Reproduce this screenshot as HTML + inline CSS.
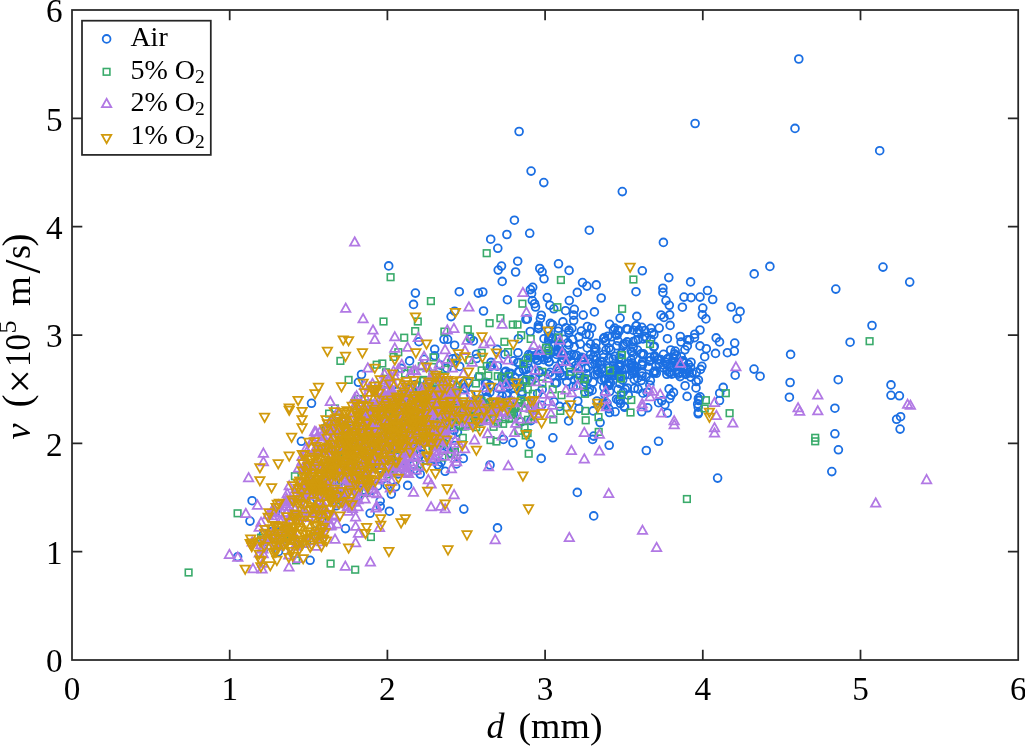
<!DOCTYPE html>
<html><head><meta charset="utf-8"><title>scatter</title>
<style>html,body{margin:0;padding:0;background:#fff}svg{display:block}text{font-family:"Liberation Serif",serif;fill:#000}</style></head><body>
<svg width="1025" height="746" viewBox="0 0 1025 746">
<rect width="1025" height="746" fill="#fff"/>
<defs>
<circle id="a" r="3.9" fill="none" stroke="#1b6fe3" stroke-width="1.8"/>
<rect id="g" x="-3.3" y="-3.3" width="6.6" height="6.6" fill="none" stroke="#3aab6b" stroke-width="1.6"/>
<path id="p" d="M0 -4.2 L4.7 4.2 L-4.7 4.2 Z" fill="none" stroke="#b178e4" stroke-width="1.75"/>
<path id="y" d="M0 4.2 L4.7 -4.2 L-4.7 -4.2 Z" fill="none" stroke="#d19a0c" stroke-width="1.75"/>
</defs>
<g>
<use href="#a" x="519.1" y="131.5"/><use href="#a" x="531.1" y="171.1"/><use href="#a" x="543.8" y="182.6"/><use href="#a" x="622.3" y="191.6"/><use href="#a" x="695.1" y="123.5"/><use href="#a" x="798.8" y="59"/><use href="#a" x="795" y="128.4"/><use href="#a" x="879.7" y="150.7"/><use href="#a" x="769.9" y="266.4"/><use href="#a" x="754.2" y="273.9"/><use href="#a" x="883" y="267.1"/><use href="#a" x="909.7" y="282.1"/><use href="#a" x="835.8" y="289.1"/><use href="#a" x="872" y="325.5"/><use href="#a" x="850.1" y="342.2"/><use href="#a" x="790.6" y="354.4"/><use href="#a" x="790.1" y="382.5"/><use href="#a" x="838.2" y="379.7"/><use href="#a" x="891" y="384.9"/><use href="#a" x="707.5" y="290.5"/><use href="#a" x="712.7" y="299.5"/><use href="#a" x="700" y="297.1"/><use href="#a" x="702.8" y="308.1"/><use href="#a" x="731.2" y="307"/><use href="#a" x="740.1" y="311.4"/><use href="#a" x="737.1" y="318.7"/><use href="#a" x="702.3" y="314.7"/><use href="#a" x="705.9" y="318.9"/><use href="#a" x="700" y="330"/><use href="#a" x="716.2" y="337.9"/><use href="#a" x="719.5" y="341.9"/><use href="#a" x="734.7" y="343.1"/><use href="#a" x="706.3" y="348.7"/><use href="#a" x="700" y="345.9"/><use href="#a" x="715.5" y="353.4"/><use href="#a" x="727.4" y="352.7"/><use href="#a" x="734.3" y="351.1"/><use href="#a" x="704.7" y="356.7"/><use href="#a" x="701.9" y="366.3"/><use href="#a" x="700.5" y="369.4"/><use href="#a" x="735.2" y="375.2"/><use href="#a" x="754" y="369.1"/><use href="#a" x="760.1" y="376.2"/><use href="#a" x="723.2" y="387.4"/><use href="#a" x="719.7" y="393.2"/><use href="#a" x="719.5" y="400.5"/><use href="#a" x="789.4" y="397.2"/><use href="#a" x="834.9" y="408.2"/><use href="#a" x="834.9" y="433.8"/><use href="#a" x="838.4" y="449.8"/><use href="#a" x="831.8" y="471.6"/><use href="#a" x="717.6" y="478.1"/><use href="#a" x="891" y="395.3"/><use href="#a" x="899.4" y="395.8"/><use href="#a" x="900.6" y="416.7"/><use href="#a" x="896.6" y="419.3"/><use href="#a" x="900.1" y="429.1"/><use href="#a" x="552.9" y="437.8"/><use href="#a" x="592.6" y="439.4"/><use href="#a" x="593.7" y="436.1"/><use href="#a" x="609.2" y="445.3"/><use href="#a" x="658.5" y="441.3"/><use href="#a" x="646.3" y="450.5"/><use href="#a" x="530.4" y="444.1"/><use href="#a" x="513" y="442.7"/><use href="#a" x="503.4" y="439.4"/><use href="#a" x="541.2" y="458.4"/><use href="#a" x="463.3" y="458.4"/><use href="#a" x="490" y="465"/><use href="#a" x="577.3" y="492.4"/><use href="#a" x="593.7" y="515.9"/><use href="#a" x="463.8" y="509.1"/><use href="#a" x="497.5" y="527.9"/><use href="#a" x="311.5" y="403.3"/><use href="#a" x="301.4" y="441.3"/><use href="#a" x="252.1" y="500.7"/><use href="#a" x="250" y="521.1"/><use href="#a" x="380.2" y="501.1"/><use href="#a" x="380.2" y="506.3"/><use href="#a" x="389.4" y="511.2"/><use href="#a" x="370.1" y="513.3"/><use href="#a" x="345.5" y="528.6"/><use href="#a" x="391.3" y="494.1"/><use href="#a" x="407.7" y="485.4"/><use href="#a" x="377.7" y="485.9"/><use href="#a" x="403" y="467.1"/><use href="#a" x="417.1" y="470.6"/><use href="#a" x="310.1" y="560.3"/><use href="#a" x="388.7" y="265.9"/><use href="#a" x="415.4" y="293.1"/><use href="#a" x="413.5" y="304.4"/><use href="#a" x="459.3" y="291.7"/><use href="#a" x="451.1" y="316.6"/><use href="#a" x="454.6" y="311.2"/><use href="#a" x="418.9" y="341.7"/><use href="#a" x="444" y="339.3"/><use href="#a" x="447.6" y="339.3"/><use href="#a" x="454.6" y="345.2"/><use href="#a" x="434.7" y="349.2"/><use href="#a" x="434.7" y="355.8"/><use href="#a" x="409.6" y="360.9"/><use href="#a" x="424.1" y="359.3"/><use href="#a" x="361.5" y="374.5"/><use href="#a" x="358.4" y="382.3"/><use href="#a" x="440.5" y="365.1"/><use href="#a" x="514.4" y="220.2"/><use href="#a" x="506.9" y="234.5"/><use href="#a" x="529.7" y="233.3"/><use href="#a" x="490.7" y="239.2"/><use href="#a" x="497.8" y="248.3"/><use href="#a" x="589.3" y="230.2"/><use href="#a" x="663.4" y="242.4"/><use href="#a" x="517.7" y="261.2"/><use href="#a" x="501.5" y="266.1"/><use href="#a" x="498.2" y="270.1"/><use href="#a" x="515.6" y="272"/><use href="#a" x="502.2" y="281.4"/><use href="#a" x="558.5" y="263.8"/><use href="#a" x="539.8" y="268.5"/><use href="#a" x="542.1" y="271.8"/><use href="#a" x="544" y="278.8"/><use href="#a" x="569.1" y="270.4"/><use href="#a" x="642.3" y="270.8"/><use href="#a" x="668.8" y="277.6"/><use href="#a" x="690.6" y="281.9"/><use href="#a" x="582.5" y="282.6"/><use href="#a" x="586.9" y="286.1"/><use href="#a" x="596.3" y="284.9"/><use href="#a" x="577.3" y="292.4"/><use href="#a" x="601.2" y="298"/><use href="#a" x="636" y="291.7"/><use href="#a" x="662.9" y="288.2"/><use href="#a" x="662.9" y="292.4"/><use href="#a" x="666" y="300.6"/><use href="#a" x="669.3" y="305.3"/><use href="#a" x="684" y="297.1"/><use href="#a" x="691.1" y="297.6"/><use href="#a" x="682.4" y="307.2"/><use href="#a" x="478.3" y="293.1"/><use href="#a" x="482.8" y="292"/><use href="#a" x="507.4" y="299.7"/><use href="#a" x="483.5" y="311"/><use href="#a" x="530.4" y="289.6"/><use href="#a" x="532.7" y="287.3"/><use href="#a" x="531.6" y="293.6"/><use href="#a" x="532.3" y="300.6"/><use href="#a" x="534.6" y="303.7"/><use href="#a" x="535.5" y="307"/><use href="#a" x="547.3" y="297.6"/><use href="#a" x="569.3" y="300.6"/><use href="#a" x="549.9" y="305.3"/><use href="#a" x="553.8" y="308.8"/><use href="#a" x="565.6" y="310.7"/><use href="#a" x="574.3" y="309.3"/><use href="#a" x="594.4" y="311.9"/><use href="#a" x="700.1" y="396.8"/><use href="#a" x="698.9" y="400.5"/><use href="#a" x="698.2" y="407.1"/><use href="#a" x="698.2" y="413.8"/><use href="#a" x="696" y="387.9"/><use href="#a" x="600.1" y="422.6"/><use href="#a" x="609.5" y="412.5"/><use href="#a" x="608.7" y="408.6"/><use href="#a" x="616.5" y="399.2"/><use href="#a" x="647.7" y="407.8"/><use href="#a" x="664.9" y="404.7"/><use href="#a" x="661.8" y="400.8"/><use href="#a" x="671.1" y="395.3"/><use href="#a" x="698.4" y="398.4"/><use href="#a" x="697.7" y="403.9"/><use href="#a" x="698.4" y="412.5"/><use href="#a" x="593.1" y="410.9"/><use href="#a" x="579" y="408.6"/><use href="#a" x="599.6" y="372.8"/><use href="#a" x="600.3" y="361.3"/><use href="#a" x="582.7" y="361.7"/><use href="#a" x="633.8" y="373.5"/><use href="#a" x="631.9" y="370.9"/><use href="#a" x="615.9" y="369.1"/><use href="#a" x="564.3" y="375.6"/><use href="#a" x="618.7" y="373.7"/><use href="#a" x="563.7" y="339.3"/><use href="#a" x="583.8" y="358.2"/><use href="#a" x="613.6" y="365.8"/><use href="#a" x="619" y="357.8"/><use href="#a" x="613.7" y="371.9"/><use href="#a" x="589.5" y="389"/><use href="#a" x="619.9" y="383.5"/><use href="#a" x="590.5" y="354.8"/><use href="#a" x="597.4" y="364"/><use href="#a" x="621.8" y="370.3"/><use href="#a" x="594.8" y="352"/><use href="#a" x="593" y="382.3"/><use href="#a" x="585.8" y="368.3"/><use href="#a" x="616.7" y="345.8"/><use href="#a" x="607.2" y="384.3"/><use href="#a" x="555.6" y="358.7"/><use href="#a" x="603.3" y="354.5"/><use href="#a" x="618.4" y="365.8"/><use href="#a" x="569.4" y="375.5"/><use href="#a" x="622.7" y="380.1"/><use href="#a" x="642" y="373.1"/><use href="#a" x="609" y="348.1"/><use href="#a" x="621.4" y="358.3"/><use href="#a" x="594.7" y="347.7"/><use href="#a" x="581.8" y="357.2"/><use href="#a" x="638.2" y="339.5"/><use href="#a" x="569.6" y="367.3"/><use href="#a" x="642.1" y="376.1"/><use href="#a" x="558.5" y="328.3"/><use href="#a" x="614.9" y="356.2"/><use href="#a" x="578" y="378"/><use href="#a" x="633.5" y="369.7"/><use href="#a" x="612.1" y="372.4"/><use href="#a" x="645.9" y="376.9"/><use href="#a" x="619" y="374.4"/><use href="#a" x="566.8" y="381.7"/><use href="#a" x="629.9" y="374.7"/><use href="#a" x="556.7" y="354.4"/><use href="#a" x="627.1" y="341.9"/><use href="#a" x="601.4" y="379.9"/><use href="#a" x="573.2" y="386.6"/><use href="#a" x="619.8" y="364.7"/><use href="#a" x="614.1" y="375.5"/><use href="#a" x="609" y="382.1"/><use href="#a" x="589.5" y="359.3"/><use href="#a" x="632" y="367.8"/><use href="#a" x="584" y="378"/><use href="#a" x="642.6" y="361.9"/><use href="#a" x="571.5" y="362.2"/><use href="#a" x="602.3" y="361.6"/><use href="#a" x="641.1" y="353.7"/><use href="#a" x="637.5" y="350.1"/><use href="#a" x="586.3" y="373.7"/><use href="#a" x="634.2" y="379.5"/><use href="#a" x="614.6" y="368.5"/><use href="#a" x="609.8" y="374.2"/><use href="#a" x="601.6" y="369.6"/><use href="#a" x="620.3" y="366.8"/><use href="#a" x="625.1" y="375"/><use href="#a" x="656.3" y="373.3"/><use href="#a" x="595.3" y="360.2"/><use href="#a" x="605.7" y="378.8"/><use href="#a" x="597.6" y="370.9"/><use href="#a" x="651.9" y="332.8"/><use href="#a" x="577.9" y="367.8"/><use href="#a" x="616" y="369.9"/><use href="#a" x="595.2" y="374.5"/><use href="#a" x="613.1" y="359.1"/><use href="#a" x="666.8" y="374.3"/><use href="#a" x="592.1" y="363.8"/><use href="#a" x="600.4" y="364.8"/><use href="#a" x="537.8" y="355.4"/><use href="#a" x="631.2" y="351.1"/><use href="#a" x="604.3" y="379.2"/><use href="#a" x="627.4" y="388"/><use href="#a" x="563.5" y="358.7"/><use href="#a" x="597.5" y="374.2"/><use href="#a" x="633.3" y="330.2"/><use href="#a" x="633.2" y="347.4"/><use href="#a" x="623.1" y="346.2"/><use href="#a" x="610.4" y="382.9"/><use href="#a" x="602.3" y="368.5"/><use href="#a" x="625.9" y="369.1"/><use href="#a" x="603.8" y="387.2"/><use href="#a" x="632.2" y="363.4"/><use href="#a" x="674.6" y="353.9"/><use href="#a" x="628.9" y="363.6"/><use href="#a" x="609.3" y="376"/><use href="#a" x="611.6" y="375.2"/><use href="#a" x="567.8" y="342.8"/><use href="#a" x="621.4" y="353.4"/><use href="#a" x="580.3" y="344.1"/><use href="#a" x="637.7" y="378.2"/><use href="#a" x="642.8" y="355"/><use href="#a" x="606" y="350.1"/><use href="#a" x="625.2" y="389.2"/><use href="#a" x="583.7" y="386.5"/><use href="#a" x="630.7" y="364.9"/><use href="#a" x="556.7" y="382.8"/><use href="#a" x="603.6" y="357.5"/><use href="#a" x="616" y="372.3"/><use href="#a" x="643.5" y="353.9"/><use href="#a" x="634.4" y="388.3"/><use href="#a" x="642.3" y="365.5"/><use href="#a" x="587.4" y="379.1"/><use href="#a" x="608.9" y="367.9"/><use href="#a" x="641.6" y="364.3"/><use href="#a" x="649.1" y="361.1"/><use href="#a" x="654.9" y="371"/><use href="#a" x="683.1" y="361.4"/><use href="#a" x="678.9" y="372.6"/><use href="#a" x="680" y="376.6"/><use href="#a" x="678.2" y="374.2"/><use href="#a" x="698.4" y="380"/><use href="#a" x="670.3" y="372.5"/><use href="#a" x="654.6" y="355.9"/><use href="#a" x="653.5" y="372.9"/><use href="#a" x="663" y="364.9"/><use href="#a" x="676.5" y="365.6"/><use href="#a" x="671.3" y="367.4"/><use href="#a" x="685.9" y="374.4"/><use href="#a" x="676.4" y="355.8"/><use href="#a" x="671.8" y="374.1"/><use href="#a" x="657.6" y="359.9"/><use href="#a" x="692.1" y="373.1"/><use href="#a" x="679.1" y="372.4"/><use href="#a" x="681.2" y="356.7"/><use href="#a" x="658.7" y="359.7"/><use href="#a" x="691" y="362.2"/><use href="#a" x="667.3" y="359.1"/><use href="#a" x="659.1" y="363.8"/><use href="#a" x="663.7" y="368"/><use href="#a" x="648.3" y="366.7"/><use href="#a" x="670.7" y="350"/><use href="#a" x="688.4" y="364.4"/><use href="#a" x="650" y="357.3"/><use href="#a" x="682.8" y="362.6"/><use href="#a" x="689.1" y="372.6"/><use href="#a" x="687.7" y="369.1"/><use href="#a" x="696.3" y="372.3"/><use href="#a" x="684.9" y="349.8"/><use href="#a" x="690.7" y="377.1"/><use href="#a" x="675.1" y="362"/><use href="#a" x="685.1" y="385.7"/><use href="#a" x="666.9" y="370.7"/><use href="#a" x="686.3" y="373.6"/><use href="#a" x="667.2" y="364.6"/><use href="#a" x="682.8" y="372.8"/><use href="#a" x="678.6" y="364.4"/><use href="#a" x="665.8" y="362.3"/><use href="#a" x="690.6" y="367.5"/><use href="#a" x="667.9" y="358.6"/><use href="#a" x="687.3" y="345.9"/><use href="#a" x="687.1" y="370.3"/><use href="#a" x="678.1" y="370.1"/><use href="#a" x="653.7" y="372.7"/><use href="#a" x="683.2" y="360.7"/><use href="#a" x="696.2" y="381.5"/><use href="#a" x="660.8" y="359.6"/><use href="#a" x="682.8" y="367.7"/><use href="#a" x="673.8" y="357.9"/><use href="#a" x="663.5" y="354.3"/><use href="#a" x="689.5" y="339.9"/><use href="#a" x="694.5" y="337.7"/><use href="#a" x="581.4" y="331.1"/><use href="#a" x="527.3" y="319"/><use href="#a" x="615.5" y="334.3"/><use href="#a" x="587.4" y="326.5"/><use href="#a" x="637.3" y="332.5"/><use href="#a" x="644.8" y="330.5"/><use href="#a" x="604.4" y="337.5"/><use href="#a" x="620.1" y="318.1"/><use href="#a" x="591.7" y="328"/><use href="#a" x="613.4" y="329.9"/><use href="#a" x="618" y="330.1"/><use href="#a" x="635.7" y="340.6"/><use href="#a" x="636.3" y="325.7"/><use href="#a" x="636.8" y="316.4"/><use href="#a" x="538.4" y="328.7"/><use href="#a" x="578.9" y="336.9"/><use href="#a" x="574.3" y="346.9"/><use href="#a" x="585.9" y="334.3"/><use href="#a" x="638.9" y="330.1"/><use href="#a" x="680.3" y="336.5"/><use href="#a" x="617.1" y="335.2"/><use href="#a" x="687.5" y="339.7"/><use href="#a" x="661" y="315"/><use href="#a" x="611.8" y="336.8"/><use href="#a" x="605.5" y="340.8"/><use href="#a" x="643" y="338.9"/><use href="#a" x="609.1" y="358.6"/><use href="#a" x="670.1" y="325.4"/><use href="#a" x="621.8" y="359.1"/><use href="#a" x="603.6" y="338.5"/><use href="#a" x="659.2" y="328.1"/><use href="#a" x="569" y="330.3"/><use href="#a" x="633.1" y="341.6"/><use href="#a" x="650.9" y="328.3"/><use href="#a" x="653.9" y="334.5"/><use href="#a" x="626.7" y="328.7"/><use href="#a" x="607.8" y="336.2"/><use href="#a" x="573.7" y="320.5"/><use href="#a" x="589.3" y="334.8"/><use href="#a" x="641.8" y="327.3"/><use href="#a" x="694.8" y="334.2"/><use href="#a" x="663.9" y="317.4"/><use href="#a" x="650.8" y="339.2"/><use href="#a" x="538.3" y="327.4"/><use href="#a" x="541.3" y="315.2"/><use href="#a" x="619.3" y="331"/><use href="#a" x="644.6" y="336.4"/><use href="#a" x="681.1" y="342"/><use href="#a" x="562.9" y="321.9"/><use href="#a" x="573.5" y="315.1"/><use href="#a" x="614.6" y="328.1"/><use href="#a" x="566" y="327.7"/><use href="#a" x="609.6" y="324.3"/><use href="#a" x="549" y="338.3"/><use href="#a" x="561.2" y="362.8"/><use href="#a" x="548.6" y="340.2"/><use href="#a" x="534.3" y="355.8"/><use href="#a" x="525.9" y="359.4"/><use href="#a" x="552.4" y="324.7"/><use href="#a" x="546" y="348.1"/><use href="#a" x="557.4" y="368.5"/><use href="#a" x="549.4" y="336.3"/><use href="#a" x="547.7" y="353.6"/><use href="#a" x="561.8" y="361.5"/><use href="#a" x="538.4" y="325.2"/><use href="#a" x="544" y="338.7"/><use href="#a" x="532.2" y="352.4"/><use href="#a" x="542.1" y="357.3"/><use href="#a" x="558.4" y="345.9"/><use href="#a" x="587.2" y="347.9"/><use href="#a" x="567.6" y="357.7"/><use href="#a" x="538" y="360.4"/><use href="#a" x="559.6" y="406.4"/><use href="#a" x="555.2" y="383.2"/><use href="#a" x="562.3" y="375.8"/><use href="#a" x="558.2" y="351.6"/><use href="#a" x="558.1" y="331.3"/><use href="#a" x="568.9" y="332.6"/><use href="#a" x="554" y="401.7"/><use href="#a" x="546.4" y="355.4"/><use href="#a" x="568.6" y="355.6"/><use href="#a" x="537.1" y="360.7"/><use href="#a" x="559.3" y="370.6"/><use href="#a" x="537.6" y="393.6"/><use href="#a" x="576.7" y="355.4"/><use href="#a" x="554.3" y="345.6"/><use href="#a" x="572.6" y="339.5"/><use href="#a" x="560.8" y="344.4"/><use href="#a" x="538.9" y="370.8"/><use href="#a" x="571.3" y="354.8"/><use href="#a" x="539.2" y="372.9"/><use href="#a" x="549.2" y="361.8"/><use href="#a" x="574.4" y="379.9"/><use href="#a" x="541.7" y="405.2"/><use href="#a" x="550.1" y="372.3"/><use href="#a" x="539.6" y="354"/><use href="#a" x="522" y="394.3"/><use href="#a" x="571.9" y="328.3"/><use href="#a" x="525.9" y="319.3"/><use href="#a" x="568.8" y="344.9"/><use href="#a" x="549" y="348.1"/><use href="#a" x="548.1" y="331.1"/><use href="#a" x="550.4" y="323.4"/><use href="#a" x="548.9" y="361.8"/><use href="#a" x="557.5" y="349.9"/><use href="#a" x="535.5" y="358.5"/><use href="#a" x="542.2" y="389.4"/><use href="#a" x="562.3" y="352.5"/><use href="#a" x="491.8" y="365.3"/><use href="#a" x="478.8" y="376.7"/><use href="#a" x="513.3" y="387.7"/><use href="#a" x="520.9" y="422"/><use href="#a" x="485.3" y="383.4"/><use href="#a" x="583.2" y="315.1"/><use href="#a" x="490.4" y="385.6"/><use href="#a" x="509.3" y="386.2"/><use href="#a" x="498.3" y="388.1"/><use href="#a" x="506.5" y="395.3"/><use href="#a" x="504.9" y="354.4"/><use href="#a" x="475.7" y="399.9"/><use href="#a" x="486.8" y="397.2"/><use href="#a" x="525.9" y="379.6"/><use href="#a" x="519.2" y="371.9"/><use href="#a" x="465.5" y="387.5"/><use href="#a" x="517.7" y="362.6"/><use href="#a" x="502.2" y="395.9"/><use href="#a" x="480.4" y="399"/><use href="#a" x="557.2" y="351.9"/><use href="#a" x="509.1" y="373.5"/><use href="#a" x="548.1" y="374.2"/><use href="#a" x="530.1" y="355.7"/><use href="#a" x="504.5" y="377.9"/><use href="#a" x="530.2" y="331.5"/><use href="#a" x="525.8" y="369.6"/><use href="#a" x="517.6" y="383.2"/><use href="#a" x="463" y="383.9"/><use href="#a" x="546.8" y="354.1"/><use href="#a" x="476.4" y="354.2"/><use href="#a" x="470.8" y="394.5"/><use href="#a" x="552.4" y="375.6"/><use href="#a" x="490.5" y="366.3"/><use href="#a" x="519.8" y="386.8"/><use href="#a" x="476.6" y="358.5"/><use href="#a" x="513.1" y="381.6"/><use href="#a" x="468.4" y="382.8"/><use href="#a" x="489.8" y="392.4"/><use href="#a" x="501.7" y="376.9"/><use href="#a" x="495.1" y="404.7"/><use href="#a" x="543.9" y="359.6"/><use href="#a" x="528.7" y="354.6"/><use href="#a" x="507" y="394.7"/><use href="#a" x="547.4" y="358.3"/><use href="#a" x="502.9" y="383"/><use href="#a" x="463.1" y="389.2"/><use href="#a" x="486.1" y="391.4"/><use href="#a" x="473.4" y="340.9"/><use href="#a" x="506.1" y="383.7"/><use href="#a" x="489.6" y="402.3"/><use href="#a" x="497.4" y="366.1"/><use href="#a" x="518.4" y="338.7"/><use href="#a" x="486" y="382.4"/><use href="#a" x="528.8" y="368.2"/><use href="#a" x="513.6" y="360.8"/><use href="#a" x="513.4" y="413.9"/><use href="#a" x="487" y="383"/><use href="#a" x="509.9" y="400.2"/><use href="#a" x="470.4" y="338.8"/><use href="#a" x="522" y="391.8"/><use href="#a" x="510.7" y="382.3"/><use href="#a" x="531" y="379.8"/><use href="#a" x="551.6" y="337.7"/><use href="#a" x="527.7" y="363.6"/><use href="#a" x="530.9" y="420.7"/><use href="#a" x="504.8" y="372.2"/><use href="#a" x="491" y="362.4"/><use href="#a" x="487.3" y="397.2"/><use href="#a" x="506" y="379.3"/><use href="#a" x="500.1" y="400.2"/><use href="#a" x="518.8" y="371.2"/><use href="#a" x="523.6" y="369.7"/><use href="#a" x="472.7" y="419.6"/><use href="#a" x="518" y="352.7"/><use href="#a" x="535.2" y="378.1"/><use href="#a" x="514.3" y="396"/><use href="#a" x="510.5" y="373.2"/><use href="#a" x="461.7" y="411.4"/><use href="#a" x="505.8" y="371.2"/><use href="#a" x="514.8" y="377.3"/><use href="#a" x="647" y="392.3"/><use href="#a" x="618.5" y="374.6"/><use href="#a" x="603.1" y="402.8"/><use href="#a" x="673.5" y="392.4"/><use href="#a" x="615.1" y="411.8"/><use href="#a" x="607" y="403.3"/><use href="#a" x="687.1" y="396.4"/><use href="#a" x="669.1" y="388.9"/><use href="#a" x="628.3" y="395.2"/><use href="#a" x="624.6" y="407.3"/><use href="#a" x="597" y="401"/><use href="#a" x="577.8" y="401"/><use href="#a" x="642.9" y="393.2"/><use href="#a" x="641.2" y="380.5"/><use href="#a" x="650.4" y="380.6"/><use href="#a" x="592.1" y="390.4"/><use href="#a" x="604" y="404.6"/><use href="#a" x="623.3" y="392"/><use href="#a" x="641.7" y="411.8"/><use href="#a" x="620.2" y="399.7"/><use href="#a" x="669.6" y="398.7"/><use href="#a" x="568.6" y="420.9"/><use href="#a" x="618.4" y="400.2"/><use href="#a" x="658.6" y="402.7"/><use href="#a" x="609.1" y="385.5"/><use href="#a" x="624.1" y="406.3"/><use href="#a" x="576.4" y="385.7"/><use href="#a" x="619" y="376.6"/><use href="#a" x="609.6" y="391.6"/><use href="#a" x="638" y="389"/><use href="#a" x="584.7" y="392.1"/><use href="#a" x="618" y="389.4"/><use href="#a" x="620.5" y="403.5"/><use href="#a" x="667.4" y="413"/><use href="#a" x="588.7" y="391.8"/><use href="#a" x="485.9" y="397.8"/><use href="#a" x="573.8" y="355.3"/><use href="#a" x="636.1" y="326.1"/><use href="#a" x="633.2" y="355.4"/><use href="#a" x="518.7" y="362.4"/><use href="#a" x="669.7" y="314.9"/><use href="#a" x="650.4" y="360.6"/><use href="#a" x="633.7" y="365.7"/><use href="#a" x="675.2" y="351.1"/><use href="#a" x="653.7" y="347"/><use href="#a" x="646.4" y="338.1"/><use href="#a" x="604.6" y="394.1"/><use href="#a" x="632.3" y="352.5"/><use href="#a" x="552.8" y="338.6"/><use href="#a" x="619.7" y="376.7"/><use href="#a" x="631.3" y="367.5"/><use href="#a" x="607.9" y="385.7"/><use href="#a" x="590.5" y="343.9"/><use href="#a" x="654.4" y="357.4"/><use href="#a" x="596.1" y="343.3"/><use href="#a" x="597.2" y="369.7"/><use href="#a" x="627.7" y="329.4"/><use href="#a" x="631.3" y="359.9"/><use href="#a" x="560" y="373"/><use href="#a" x="596" y="348.6"/><use href="#a" x="649.8" y="385.1"/><use href="#a" x="575.6" y="365.6"/><use href="#a" x="566.2" y="406.9"/><use href="#a" x="585.3" y="382.3"/><use href="#a" x="577.6" y="373.8"/><use href="#a" x="588.3" y="367"/><use href="#a" x="605.4" y="341.3"/><use href="#a" x="527.8" y="374.8"/><use href="#a" x="523.9" y="381.3"/><use href="#a" x="581.1" y="359.2"/><use href="#a" x="673" y="358.6"/><use href="#a" x="540.4" y="318.7"/><use href="#a" x="669.1" y="372.3"/><use href="#a" x="569.2" y="374.9"/><use href="#a" x="634.8" y="370.2"/><use href="#a" x="497.1" y="349.4"/><use href="#a" x="655" y="372.1"/><use href="#a" x="618.5" y="366.8"/><use href="#a" x="593.5" y="356.8"/><use href="#a" x="654.3" y="346.2"/><use href="#a" x="667.4" y="338.7"/><use href="#a" x="623.3" y="344.4"/><use href="#a" x="617.9" y="340.8"/><use href="#a" x="530.1" y="380"/><use href="#a" x="625.2" y="343.7"/><use href="#a" x="620" y="377.8"/><use href="#a" x="561.1" y="353.6"/><use href="#a" x="637" y="367.6"/><use href="#a" x="672.1" y="363.2"/><use href="#a" x="610.7" y="349.9"/><use href="#a" x="438" y="436.6"/><use href="#a" x="336.9" y="491.3"/><use href="#a" x="418.2" y="418.6"/><use href="#a" x="340.4" y="495.7"/><use href="#a" x="395.6" y="486.8"/><use href="#a" x="414.2" y="401.8"/><use href="#a" x="427.9" y="402"/><use href="#a" x="325.8" y="475"/><use href="#a" x="372.4" y="461.9"/><use href="#a" x="333.6" y="480.9"/><use href="#a" x="456.5" y="463.9"/><use href="#a" x="451.2" y="416.6"/><use href="#a" x="388.7" y="458.7"/><use href="#a" x="452.6" y="358.7"/><use href="#a" x="263.4" y="534.4"/><use href="#a" x="382.1" y="415.1"/><use href="#a" x="421.5" y="422.8"/><use href="#a" x="310.4" y="502.9"/><use href="#a" x="436.4" y="446"/><use href="#a" x="433.8" y="441.9"/><use href="#a" x="414.9" y="393.4"/><use href="#a" x="427.8" y="381.8"/><use href="#a" x="405.3" y="453.9"/><use href="#a" x="432.5" y="389.7"/><use href="#a" x="270.5" y="531.9"/><use href="#a" x="398.8" y="398.3"/><use href="#a" x="439.1" y="418"/><use href="#a" x="362.9" y="445.6"/><use href="#a" x="439.2" y="428.8"/><use href="#a" x="441.1" y="415.1"/><use href="#a" x="315.2" y="531"/><use href="#a" x="436" y="406.9"/><use href="#a" x="343.9" y="499.2"/><use href="#a" x="350.9" y="490.6"/><use href="#a" x="388.9" y="433.2"/><use href="#a" x="398.5" y="439.7"/><use href="#a" x="433.9" y="414.9"/><use href="#a" x="389.1" y="434.9"/><use href="#a" x="387.2" y="485.2"/><use href="#a" x="457.4" y="432.2"/><use href="#a" x="389.5" y="423.6"/><use href="#a" x="459.7" y="366.4"/><use href="#a" x="384.8" y="425.4"/><use href="#a" x="423.3" y="443.3"/><use href="#a" x="452.5" y="434.7"/><use href="#a" x="433" y="458.9"/><use href="#a" x="396.1" y="422.2"/><use href="#a" x="454.7" y="392"/><use href="#a" x="413.2" y="428.7"/><use href="#a" x="451.6" y="399.1"/><use href="#a" x="441" y="462.2"/><use href="#a" x="343.2" y="486.8"/><use href="#a" x="407.5" y="472.4"/><use href="#a" x="389.1" y="460.9"/><use href="#a" x="377.3" y="447.7"/><use href="#a" x="369.6" y="414.5"/><use href="#a" x="326.1" y="427.3"/><use href="#a" x="336.9" y="463.9"/><use href="#a" x="424" y="389.4"/><use href="#a" x="401.7" y="451.7"/><use href="#a" x="415.2" y="384.6"/><use href="#a" x="397.6" y="455.2"/><use href="#a" x="327.6" y="445.7"/><use href="#a" x="429.7" y="431"/><use href="#a" x="367.2" y="486.7"/><use href="#a" x="372.6" y="461.8"/><use href="#a" x="439.1" y="466.4"/><use href="#a" x="436.7" y="396.6"/><use href="#a" x="405.5" y="442.1"/><use href="#a" x="440.4" y="437.7"/><use href="#a" x="417.4" y="442.6"/><use href="#a" x="296.7" y="514.9"/><use href="#a" x="439.7" y="439.4"/><use href="#a" x="446.9" y="368.3"/><use href="#a" x="398.1" y="473.9"/><use href="#a" x="275.8" y="512.3"/><use href="#a" x="404.2" y="413.4"/><use href="#a" x="388.1" y="418.9"/><use href="#a" x="412.2" y="434.4"/><use href="#a" x="437.6" y="411.6"/><use href="#a" x="441.8" y="411"/><use href="#a" x="446.9" y="446.9"/><use href="#a" x="440.8" y="414"/><use href="#a" x="402" y="410.8"/><use href="#a" x="410.3" y="416.8"/><use href="#a" x="436.3" y="410"/><use href="#a" x="427" y="417.3"/><use href="#a" x="450.9" y="452.9"/><use href="#a" x="333.4" y="467.6"/><use href="#a" x="406.5" y="411.7"/><use href="#a" x="424.2" y="404.4"/><use href="#a" x="454.7" y="445.5"/><use href="#a" x="423.3" y="432.3"/><use href="#a" x="403.6" y="406.2"/><use href="#a" x="438.9" y="421.2"/><use href="#a" x="378.9" y="422.4"/><use href="#a" x="337.1" y="464.9"/><use href="#a" x="444" y="397.9"/><use href="#a" x="394.3" y="426.1"/><use href="#a" x="350.9" y="475.5"/><use href="#a" x="425.5" y="392.7"/><use href="#a" x="360.2" y="466.1"/><use href="#a" x="409.8" y="389.6"/><use href="#a" x="357.3" y="450"/><use href="#a" x="389" y="440.7"/><use href="#a" x="459.3" y="387"/><use href="#a" x="329.5" y="479.7"/><use href="#a" x="442" y="440.2"/><use href="#a" x="425.6" y="460"/><use href="#a" x="397.2" y="391.4"/><use href="#a" x="456" y="358.1"/><use href="#a" x="363.5" y="490"/><use href="#a" x="375.5" y="430.7"/><use href="#a" x="368.3" y="456.1"/><use href="#a" x="426.9" y="398.3"/><use href="#a" x="280.8" y="531.3"/><use href="#a" x="420.9" y="453.9"/><use href="#a" x="420.2" y="474.1"/><use href="#a" x="336.3" y="505.8"/><use href="#a" x="322.9" y="511.6"/><use href="#a" x="401.4" y="368.4"/><use href="#a" x="365.7" y="452.8"/><use href="#a" x="372" y="490.3"/><use href="#a" x="421.4" y="447.6"/><use href="#a" x="293.9" y="515.8"/><use href="#a" x="334.3" y="469.3"/><use href="#a" x="420.2" y="408.6"/><use href="#a" x="237.6" y="556.8"/><use href="#a" x="365.1" y="425.4"/><use href="#a" x="385.5" y="441.8"/><use href="#a" x="454" y="430.4"/><use href="#a" x="416.9" y="455.6"/><use href="#a" x="407.4" y="457.6"/><use href="#a" x="357" y="489.2"/><use href="#a" x="406.5" y="396.3"/><use href="#a" x="432.4" y="430.1"/><use href="#a" x="344.8" y="462"/><use href="#a" x="306.5" y="543.2"/><use href="#a" x="373.1" y="456.2"/><use href="#a" x="414.1" y="464.5"/><use href="#a" x="458.7" y="407.4"/><use href="#a" x="278.5" y="551.7"/><use href="#a" x="418" y="424.1"/><use href="#a" x="363.9" y="473.8"/><use href="#a" x="392.8" y="440.5"/><use href="#a" x="407.2" y="444.5"/><use href="#a" x="379.5" y="468.3"/><use href="#a" x="445.1" y="471.3"/><use href="#a" x="359.8" y="447.4"/><use href="#a" x="436.6" y="409.6"/><use href="#a" x="400.3" y="421.6"/><use href="#a" x="402.8" y="461"/><use href="#a" x="432.5" y="443.3"/><use href="#a" x="430.3" y="432.4"/><use href="#a" x="434.4" y="386.6"/><use href="#a" x="357.6" y="496.3"/><use href="#a" x="382.7" y="418.5"/><use href="#a" x="437.8" y="464.7"/><use href="#a" x="432.2" y="431.8"/><use href="#a" x="454.8" y="400.7"/><use href="#a" x="443" y="445.7"/><use href="#a" x="384.7" y="400.2"/><use href="#a" x="446.6" y="411.7"/><use href="#a" x="403.8" y="430"/><use href="#a" x="399.8" y="421.2"/><use href="#a" x="426.5" y="396.7"/><use href="#a" x="356.2" y="466.3"/><use href="#a" x="440.8" y="418.1"/><use href="#a" x="322.1" y="520.5"/><use href="#a" x="345.8" y="485.4"/>
</g>
<g>
<use href="#g" x="869.6" y="341.2"/><use href="#g" x="725.8" y="393.2"/><use href="#g" x="705.9" y="400.2"/><use href="#g" x="704.7" y="408.5"/><use href="#g" x="729.6" y="413.2"/><use href="#g" x="815.2" y="437.8"/><use href="#g" x="815.2" y="441.3"/><use href="#g" x="528.7" y="453.7"/><use href="#g" x="490.5" y="440.1"/><use href="#g" x="496.4" y="441.5"/><use href="#g" x="525.7" y="435.4"/><use href="#g" x="527.6" y="433.1"/><use href="#g" x="686.9" y="499"/><use href="#g" x="598.7" y="431.9"/><use href="#g" x="462.8" y="437.8"/><use href="#g" x="237.6" y="513.3"/><use href="#g" x="335" y="408.5"/><use href="#g" x="263.9" y="548.8"/><use href="#g" x="329.1" y="413.6"/><use href="#g" x="370.9" y="537"/><use href="#g" x="451.1" y="454.2"/><use href="#g" x="365.5" y="492.9"/><use href="#g" x="188.6" y="572.5"/><use href="#g" x="330.6" y="563.6"/><use href="#g" x="355.2" y="569.7"/><use href="#g" x="296.1" y="560.3"/><use href="#g" x="390.6" y="277.2"/><use href="#g" x="430.9" y="301.1"/><use href="#g" x="383.5" y="321.5"/><use href="#g" x="417.8" y="321.5"/><use href="#g" x="415.2" y="331.1"/><use href="#g" x="404.2" y="337.7"/><use href="#g" x="398.3" y="352.2"/><use href="#g" x="393.6" y="356.9"/><use href="#g" x="340.4" y="360.9"/><use href="#g" x="382.3" y="363.5"/><use href="#g" x="376.7" y="364.7"/><use href="#g" x="348.6" y="379.9"/><use href="#g" x="433.5" y="357.4"/><use href="#g" x="421.8" y="366.3"/><use href="#g" x="432.3" y="367"/><use href="#g" x="486.7" y="253.2"/><use href="#g" x="560.9" y="280"/><use href="#g" x="633.4" y="279.5"/><use href="#g" x="522.4" y="303.7"/><use href="#g" x="557.4" y="307.2"/><use href="#g" x="622.1" y="308.8"/><use href="#g" x="500.4" y="318.2"/><use href="#g" x="489.6" y="323.2"/><use href="#g" x="512.8" y="324.6"/><use href="#g" x="517.5" y="324.6"/><use href="#g" x="650" y="344"/><use href="#g" x="621.9" y="355.1"/><use href="#g" x="610.1" y="370.5"/><use href="#g" x="620.9" y="378.5"/><use href="#g" x="621.2" y="394.8"/><use href="#g" x="631.3" y="400"/><use href="#g" x="630.5" y="412.5"/><use href="#g" x="585.3" y="410.9"/><use href="#g" x="585.7" y="420.3"/><use href="#g" x="598.5" y="417.1"/><use href="#g" x="560.3" y="410.9"/><use href="#g" x="553.3" y="419.5"/><use href="#g" x="467.8" y="329.4"/><use href="#g" x="444.4" y="331.6"/><use href="#g" x="470" y="336.7"/><use href="#g" x="521.2" y="335.2"/><use href="#g" x="530.7" y="338.9"/><use href="#g" x="558.5" y="337.4"/><use href="#g" x="504.4" y="341.8"/><use href="#g" x="508" y="352.1"/><use href="#g" x="481.7" y="352.8"/><use href="#g" x="546.1" y="347.7"/><use href="#g" x="548.3" y="350.6"/><use href="#g" x="527.8" y="357.9"/><use href="#g" x="523.4" y="363.8"/><use href="#g" x="486.8" y="366"/><use href="#g" x="481.7" y="370.4"/><use href="#g" x="479.5" y="376.2"/><use href="#g" x="488.3" y="375.5"/><use href="#g" x="497.8" y="376.2"/><use href="#g" x="502.2" y="377.7"/><use href="#g" x="508.8" y="376.2"/><use href="#g" x="475.9" y="383.5"/><use href="#g" x="570.2" y="371.8"/><use href="#g" x="579.8" y="375.5"/><use href="#g" x="584.9" y="379.1"/><use href="#g" x="583.4" y="385"/><use href="#g" x="542.4" y="371.8"/><use href="#g" x="531.5" y="381.3"/><use href="#g" x="526.3" y="379.9"/><use href="#g" x="542.4" y="383.5"/><use href="#g" x="532.9" y="393.8"/><use href="#g" x="552.7" y="389.4"/><use href="#g" x="561.5" y="395.2"/><use href="#g" x="584.9" y="393.8"/><use href="#g" x="527.8" y="389.4"/><use href="#g" x="445.1" y="369.6"/><use href="#g" x="451" y="363"/><use href="#g" x="469.3" y="360.1"/><use href="#g" x="522" y="386.5"/><use href="#g" x="435.3" y="406.4"/><use href="#g" x="411" y="370.4"/><use href="#g" x="431" y="392.8"/><use href="#g" x="384.3" y="412.5"/><use href="#g" x="336" y="480.2"/><use href="#g" x="486.9" y="414"/><use href="#g" x="337.5" y="420.9"/><use href="#g" x="493.6" y="426.8"/><use href="#g" x="329.8" y="493.6"/><use href="#g" x="397.2" y="404.4"/><use href="#g" x="380.9" y="430.1"/><use href="#g" x="410.4" y="435.1"/><use href="#g" x="459" y="406"/><use href="#g" x="392" y="421.2"/><use href="#g" x="356.2" y="409.8"/><use href="#g" x="394.7" y="434.9"/><use href="#g" x="387.7" y="418.7"/><use href="#g" x="449.3" y="422.2"/><use href="#g" x="363.8" y="443.6"/><use href="#g" x="493" y="413.7"/><use href="#g" x="367.7" y="438.9"/><use href="#g" x="436.9" y="382.1"/><use href="#g" x="386" y="372.3"/><use href="#g" x="411.2" y="439.6"/><use href="#g" x="421.4" y="411.8"/><use href="#g" x="456.6" y="408.5"/><use href="#g" x="444.7" y="390.5"/><use href="#g" x="504.8" y="404"/><use href="#g" x="412.5" y="398.5"/><use href="#g" x="388.7" y="474.3"/><use href="#g" x="425.8" y="401.7"/><use href="#g" x="439.6" y="381.9"/><use href="#g" x="440.1" y="428.1"/><use href="#g" x="479.6" y="408.3"/><use href="#g" x="413.9" y="417.6"/><use href="#g" x="347.4" y="447"/><use href="#g" x="393.3" y="473.3"/><use href="#g" x="419.1" y="423.6"/><use href="#g" x="342.1" y="467.4"/><use href="#g" x="457.2" y="385.9"/><use href="#g" x="350.9" y="469.2"/><use href="#g" x="367.9" y="442"/><use href="#g" x="390.5" y="417.6"/><use href="#g" x="441.8" y="416.4"/><use href="#g" x="418.1" y="430.6"/><use href="#g" x="460.1" y="425.1"/><use href="#g" x="520.9" y="400.2"/><use href="#g" x="422.4" y="388.2"/><use href="#g" x="261.1" y="537.7"/><use href="#g" x="350.7" y="442.3"/><use href="#g" x="387.7" y="443.5"/><use href="#g" x="483.2" y="405.3"/><use href="#g" x="387.9" y="390.1"/><use href="#g" x="288.1" y="539"/><use href="#g" x="410.8" y="387.3"/><use href="#g" x="438.3" y="394.9"/><use href="#g" x="401.5" y="394.6"/><use href="#g" x="420.1" y="402"/><use href="#g" x="465.2" y="426.4"/><use href="#g" x="394.2" y="439"/><use href="#g" x="446.1" y="394.6"/><use href="#g" x="365.6" y="439.2"/><use href="#g" x="432.4" y="376.6"/><use href="#g" x="410.6" y="419.7"/><use href="#g" x="449" y="416.9"/><use href="#g" x="367.4" y="441.1"/><use href="#g" x="416.2" y="428.2"/><use href="#g" x="388.4" y="405.1"/><use href="#g" x="433.5" y="443.3"/><use href="#g" x="423.7" y="417.1"/><use href="#g" x="517.4" y="414.7"/><use href="#g" x="423" y="414.2"/><use href="#g" x="458" y="414.3"/><use href="#g" x="461.9" y="408.7"/><use href="#g" x="352.2" y="445.2"/><use href="#g" x="377.3" y="419"/><use href="#g" x="440.5" y="384.1"/><use href="#g" x="344.8" y="474.7"/><use href="#g" x="467.9" y="405.8"/><use href="#g" x="294.9" y="476.2"/><use href="#g" x="514.3" y="407.1"/><use href="#g" x="394.1" y="449"/><use href="#g" x="370.4" y="453.8"/><use href="#g" x="483.5" y="420.6"/><use href="#g" x="374" y="418.1"/><use href="#g" x="302.9" y="514.3"/><use href="#g" x="454.3" y="397.1"/><use href="#g" x="434.5" y="422.9"/><use href="#g" x="344.3" y="461.8"/><use href="#g" x="378.3" y="385.5"/><use href="#g" x="398.4" y="438.2"/><use href="#g" x="372.1" y="445.5"/><use href="#g" x="328.5" y="488.4"/><use href="#g" x="391.7" y="418"/><use href="#g" x="420.7" y="426.2"/><use href="#g" x="437.7" y="438.4"/><use href="#g" x="406.2" y="444"/><use href="#g" x="415.9" y="403"/><use href="#g" x="469.1" y="406.4"/><use href="#g" x="403" y="414.7"/><use href="#g" x="392.2" y="459.2"/><use href="#g" x="384.2" y="443.5"/><use href="#g" x="531.3" y="403.6"/><use href="#g" x="512.3" y="414.7"/><use href="#g" x="291" y="539.5"/><use href="#g" x="463.7" y="401.9"/><use href="#g" x="410.2" y="436.5"/><use href="#g" x="470.4" y="415.7"/><use href="#g" x="390.1" y="431"/><use href="#g" x="370.7" y="422"/><use href="#g" x="420.2" y="395.9"/><use href="#g" x="420.3" y="406.3"/><use href="#g" x="408.4" y="444.4"/><use href="#g" x="428.8" y="380.6"/><use href="#g" x="405.7" y="439.8"/><use href="#g" x="468.5" y="407.7"/><use href="#g" x="385" y="440.6"/><use href="#g" x="405.1" y="373.6"/><use href="#g" x="374.1" y="466"/><use href="#g" x="398.3" y="415.3"/><use href="#g" x="451.8" y="419.7"/><use href="#g" x="366" y="443.3"/><use href="#g" x="402" y="403.1"/><use href="#g" x="408.3" y="440.1"/><use href="#g" x="510.5" y="410.8"/><use href="#g" x="500.5" y="407"/><use href="#g" x="440.9" y="389.7"/><use href="#g" x="405.9" y="414.2"/><use href="#g" x="393.3" y="437.7"/><use href="#g" x="434.3" y="426.1"/><use href="#g" x="331" y="454.5"/><use href="#g" x="509.1" y="408.8"/><use href="#g" x="397.4" y="448.4"/><use href="#g" x="481.5" y="400.9"/><use href="#g" x="471.5" y="414.9"/><use href="#g" x="397.6" y="450"/><use href="#g" x="448.6" y="408"/><use href="#g" x="468.6" y="419.9"/><use href="#g" x="435.3" y="385.1"/><use href="#g" x="393.8" y="463.3"/><use href="#g" x="422.9" y="379.9"/><use href="#g" x="472.9" y="403.1"/><use href="#g" x="445.1" y="413.2"/><use href="#g" x="360.8" y="405.5"/><use href="#g" x="421.5" y="429.5"/><use href="#g" x="463.6" y="413.2"/><use href="#g" x="391.5" y="411.2"/><use href="#g" x="410.9" y="399.8"/><use href="#g" x="360.2" y="442.8"/><use href="#g" x="427.3" y="408.9"/><use href="#g" x="351.8" y="452.1"/><use href="#g" x="411.1" y="418.3"/><use href="#g" x="465.8" y="424.8"/><use href="#g" x="489.4" y="406.7"/><use href="#g" x="428.6" y="405.2"/><use href="#g" x="340.1" y="500.4"/><use href="#g" x="511.2" y="409.4"/><use href="#g" x="444.2" y="424.8"/><use href="#g" x="361.5" y="454.6"/><use href="#g" x="338.1" y="498.3"/><use href="#g" x="382" y="431.1"/><use href="#g" x="396.4" y="428.8"/><use href="#g" x="456.1" y="401.4"/><use href="#g" x="332.4" y="454.7"/><use href="#g" x="342.9" y="449.2"/><use href="#g" x="427.9" y="399.6"/><use href="#g" x="440" y="439.2"/><use href="#g" x="380.4" y="465.3"/><use href="#g" x="278.4" y="540.1"/><use href="#g" x="387" y="445.7"/><use href="#g" x="430.2" y="413.7"/><use href="#g" x="389.2" y="452.9"/><use href="#g" x="386.5" y="449.8"/><use href="#g" x="351.9" y="438"/><use href="#g" x="394.2" y="416.2"/><use href="#g" x="480.2" y="413.5"/><use href="#g" x="450.2" y="417"/><use href="#g" x="371.8" y="442.7"/><use href="#g" x="376.3" y="441.8"/><use href="#g" x="302" y="474.9"/><use href="#g" x="395.5" y="468.2"/><use href="#g" x="449.3" y="425.2"/><use href="#g" x="423.9" y="386"/><use href="#g" x="382.7" y="441"/><use href="#g" x="401.4" y="448.8"/><use href="#g" x="432.5" y="446.4"/><use href="#g" x="529.8" y="408.6"/><use href="#g" x="417.3" y="439.5"/><use href="#g" x="346.9" y="427.6"/><use href="#g" x="462.7" y="426.4"/><use href="#g" x="449.2" y="399.9"/><use href="#g" x="395.2" y="448.4"/><use href="#g" x="474.5" y="416.6"/><use href="#g" x="399.2" y="409.3"/><use href="#g" x="498" y="422.8"/><use href="#g" x="454.4" y="421.8"/><use href="#g" x="456" y="394.3"/><use href="#g" x="337.9" y="457.8"/><use href="#g" x="414.7" y="413.5"/><use href="#g" x="412.5" y="412"/><use href="#g" x="438.1" y="406.9"/><use href="#g" x="395" y="443"/><use href="#g" x="369.8" y="440.4"/><use href="#g" x="263.2" y="539.6"/><use href="#g" x="478.8" y="411.2"/><use href="#g" x="454.9" y="452"/><use href="#g" x="493.9" y="409.8"/><use href="#g" x="509.2" y="418"/><use href="#g" x="420.8" y="393.5"/><use href="#g" x="423.9" y="409.6"/><use href="#g" x="456.2" y="390.2"/><use href="#g" x="406.5" y="403.6"/><use href="#g" x="401.7" y="399.1"/><use href="#g" x="390.3" y="446.1"/><use href="#g" x="492.4" y="406.2"/><use href="#g" x="434.9" y="415"/><use href="#g" x="459.8" y="410.1"/><use href="#g" x="456.4" y="396.3"/><use href="#g" x="406.4" y="437.5"/><use href="#g" x="491.7" y="403.7"/><use href="#g" x="445.6" y="389.9"/><use href="#g" x="482.9" y="418.5"/><use href="#g" x="480.2" y="413.9"/><use href="#g" x="333.9" y="466.3"/><use href="#g" x="408.8" y="417.3"/><use href="#g" x="363.2" y="475.8"/><use href="#g" x="342.6" y="487.9"/><use href="#g" x="449.5" y="392.7"/><use href="#g" x="421.9" y="424.6"/><use href="#g" x="452.7" y="384.5"/><use href="#g" x="332.1" y="481.4"/><use href="#g" x="368.5" y="403.4"/><use href="#g" x="393.2" y="469.3"/><use href="#g" x="450.2" y="406.4"/><use href="#g" x="327.9" y="466.5"/><use href="#g" x="420.1" y="425.4"/><use href="#g" x="433.7" y="400.9"/><use href="#g" x="381.4" y="437.4"/><use href="#g" x="357.9" y="399"/><use href="#g" x="416.5" y="425"/><use href="#g" x="423.6" y="380.9"/><use href="#g" x="359.3" y="458.8"/><use href="#g" x="418.3" y="393.2"/><use href="#g" x="423.9" y="393.9"/><use href="#g" x="484.6" y="408.6"/><use href="#g" x="420.1" y="464"/><use href="#g" x="383.3" y="403.1"/><use href="#g" x="339.5" y="453.5"/><use href="#g" x="442.4" y="457.5"/><use href="#g" x="449.3" y="399.6"/><use href="#g" x="416.4" y="427.3"/><use href="#g" x="407.7" y="429.5"/><use href="#g" x="506.2" y="407.4"/><use href="#g" x="444.2" y="443.7"/><use href="#g" x="373.2" y="438.4"/><use href="#g" x="428.9" y="406.6"/><use href="#g" x="385" y="427.8"/><use href="#g" x="413.4" y="448.2"/><use href="#g" x="374.2" y="412.3"/><use href="#g" x="440.8" y="386"/><use href="#g" x="527.7" y="402.2"/><use href="#g" x="528" y="419.8"/><use href="#g" x="452.1" y="413.8"/><use href="#g" x="518.4" y="430.8"/><use href="#g" x="479.4" y="421.9"/><use href="#g" x="494.4" y="423.2"/><use href="#g" x="518.8" y="406.1"/><use href="#g" x="532.2" y="409.4"/><use href="#g" x="485.4" y="407.4"/><use href="#g" x="478.2" y="414.5"/><use href="#g" x="515.6" y="406.9"/><use href="#g" x="525.8" y="403.6"/><use href="#g" x="476.2" y="427.2"/><use href="#g" x="532.6" y="414.6"/><use href="#g" x="533.1" y="416.5"/><use href="#g" x="517.8" y="402.9"/><use href="#g" x="511.7" y="418.8"/><use href="#g" x="500" y="402.5"/><use href="#g" x="444" y="405.5"/><use href="#g" x="489.3" y="403.1"/><use href="#g" x="498.4" y="407.2"/><use href="#g" x="535" y="407.7"/><use href="#g" x="483.4" y="411.1"/><use href="#g" x="505.2" y="419.1"/><use href="#g" x="474.9" y="420.8"/><use href="#g" x="472.7" y="415.4"/><use href="#g" x="501.3" y="406.8"/><use href="#g" x="503.1" y="423.8"/><use href="#g" x="524.6" y="427.8"/><use href="#g" x="519.6" y="421.4"/><use href="#g" x="480.6" y="419.5"/><use href="#g" x="448.5" y="423.6"/><use href="#g" x="478.3" y="406.7"/><use href="#g" x="483.1" y="413.6"/><use href="#g" x="487.1" y="416.6"/>
</g>
<g>
<use href="#p" x="735.9" y="366.3"/><use href="#p" x="714.5" y="401.9"/><use href="#p" x="716.4" y="415"/><use href="#p" x="732.8" y="422.5"/><use href="#p" x="714.5" y="427.2"/><use href="#p" x="714.5" y="432.4"/><use href="#p" x="817.8" y="394.4"/><use href="#p" x="798.1" y="407.3"/><use href="#p" x="799.7" y="410.8"/><use href="#p" x="817.8" y="410.3"/><use href="#p" x="907.6" y="403.8"/><use href="#p" x="910.4" y="404.7"/><use href="#p" x="926.6" y="479.1"/><use href="#p" x="875.7" y="502.5"/><use href="#p" x="584.3" y="431.9"/><use href="#p" x="599.4" y="433.8"/><use href="#p" x="571.4" y="450"/><use href="#p" x="599.4" y="450.5"/><use href="#p" x="584.3" y="458.4"/><use href="#p" x="508.3" y="465.2"/><use href="#p" x="488.6" y="466.2"/><use href="#p" x="608.7" y="492.9"/><use href="#p" x="495.2" y="539.1"/><use href="#p" x="569.3" y="537"/><use href="#p" x="642.5" y="529.8"/><use href="#p" x="656.6" y="546.9"/><use href="#p" x="474.5" y="439.4"/><use href="#p" x="487.7" y="433.1"/><use href="#p" x="502.2" y="435.4"/><use href="#p" x="514.4" y="431.9"/><use href="#p" x="464.7" y="448.3"/><use href="#p" x="263.4" y="452.6"/><use href="#p" x="263.4" y="461.2"/><use href="#p" x="248.6" y="477.2"/><use href="#p" x="330.3" y="401"/><use href="#p" x="257.5" y="504.6"/><use href="#p" x="245.8" y="512.9"/><use href="#p" x="229.4" y="553.9"/><use href="#p" x="413.5" y="491.7"/><use href="#p" x="431.1" y="483.5"/><use href="#p" x="431.1" y="506.3"/><use href="#p" x="445.2" y="508.2"/><use href="#p" x="440.5" y="505.8"/><use href="#p" x="454.1" y="494.1"/><use href="#p" x="355.6" y="516.4"/><use href="#p" x="355.6" y="525.8"/><use href="#p" x="358.4" y="532.8"/><use href="#p" x="355.6" y="542.2"/><use href="#p" x="335" y="538.7"/><use href="#p" x="331.4" y="524.6"/><use href="#p" x="379.5" y="526.9"/><use href="#p" x="345.3" y="565.7"/><use href="#p" x="370.4" y="561.5"/><use href="#p" x="262.1" y="568.5"/><use href="#p" x="354.7" y="241.5"/><use href="#p" x="345.7" y="307.7"/><use href="#p" x="363.1" y="318.2"/><use href="#p" x="373" y="329.5"/><use href="#p" x="374.8" y="338.9"/><use href="#p" x="394.8" y="336.3"/><use href="#p" x="407.7" y="346.8"/><use href="#p" x="394.8" y="347.6"/><use href="#p" x="418.2" y="337"/><use href="#p" x="424.1" y="355.8"/><use href="#p" x="367.8" y="367.5"/><use href="#p" x="401.8" y="364"/><use href="#p" x="413.5" y="369.8"/><use href="#p" x="522.9" y="292"/><use href="#p" x="468.9" y="306.5"/><use href="#p" x="526.4" y="311.7"/><use href="#p" x="502.2" y="323.6"/><use href="#p" x="680.5" y="362.8"/><use href="#p" x="648.9" y="388.6"/><use href="#p" x="605.6" y="390.6"/><use href="#p" x="605.6" y="398.4"/><use href="#p" x="606.3" y="406.2"/><use href="#p" x="547.8" y="400.8"/><use href="#p" x="552.5" y="404.7"/><use href="#p" x="550.9" y="413.2"/><use href="#p" x="653.2" y="390.6"/><use href="#p" x="650" y="396.1"/><use href="#p" x="660.2" y="393.7"/><use href="#p" x="642.2" y="403.1"/><use href="#p" x="642.2" y="406.2"/><use href="#p" x="661.4" y="412.5"/><use href="#p" x="674.2" y="420.3"/><use href="#p" x="674.2" y="424.2"/><use href="#p" x="447.3" y="329.4"/><use href="#p" x="453.9" y="327.9"/><use href="#p" x="467.1" y="339.6"/><use href="#p" x="490.5" y="341.1"/><use href="#p" x="483.9" y="343.3"/><use href="#p" x="445.1" y="349.1"/><use href="#p" x="464.9" y="349.9"/><use href="#p" x="447.3" y="358.7"/><use href="#p" x="472.2" y="361.6"/><use href="#p" x="494.1" y="365.2"/><use href="#p" x="508" y="359.4"/><use href="#p" x="497.8" y="357.9"/><use href="#p" x="533.7" y="344.8"/><use href="#p" x="539.5" y="349.9"/><use href="#p" x="560" y="339.6"/><use href="#p" x="562.2" y="352.1"/><use href="#p" x="565.9" y="360.9"/><use href="#p" x="557.1" y="368.2"/><use href="#p" x="535.1" y="369.6"/><use href="#p" x="547.6" y="377.7"/><use href="#p" x="535.9" y="381.3"/><use href="#p" x="578.3" y="367.4"/><use href="#p" x="584.1" y="358.7"/><use href="#p" x="577.6" y="385"/><use href="#p" x="565.9" y="389.4"/><use href="#p" x="571.7" y="392.3"/><use href="#p" x="550.5" y="393"/><use href="#p" x="542.4" y="393.8"/><use href="#p" x="505.9" y="383.5"/><use href="#p" x="500" y="386.5"/><use href="#p" x="483.9" y="387.2"/><use href="#p" x="463.4" y="373.3"/><use href="#p" x="464.1" y="389.4"/><use href="#p" x="448.8" y="392.3"/><use href="#p" x="452.4" y="367.4"/><use href="#p" x="321.1" y="463.9"/><use href="#p" x="313.8" y="490.7"/><use href="#p" x="365.7" y="460.5"/><use href="#p" x="335.4" y="431.6"/><use href="#p" x="320.6" y="495.7"/><use href="#p" x="363.3" y="429.3"/><use href="#p" x="456.6" y="461.2"/><use href="#p" x="404" y="384.7"/><use href="#p" x="344.7" y="491.4"/><use href="#p" x="315" y="508.8"/><use href="#p" x="327.6" y="487"/><use href="#p" x="454.7" y="401.8"/><use href="#p" x="360.6" y="428.1"/><use href="#p" x="472.6" y="410.6"/><use href="#p" x="436.8" y="397.2"/><use href="#p" x="369.1" y="430.5"/><use href="#p" x="454.3" y="398.4"/><use href="#p" x="336.4" y="459.1"/><use href="#p" x="428.8" y="417"/><use href="#p" x="272" y="515.2"/><use href="#p" x="321.3" y="477.6"/><use href="#p" x="331" y="439.2"/><use href="#p" x="340.1" y="437.7"/><use href="#p" x="424.9" y="411.2"/><use href="#p" x="305.7" y="448.2"/><use href="#p" x="298.6" y="467.4"/><use href="#p" x="406.7" y="399.1"/><use href="#p" x="386" y="398.9"/><use href="#p" x="427.6" y="396.4"/><use href="#p" x="301.2" y="495.1"/><use href="#p" x="267.9" y="514.3"/><use href="#p" x="299.3" y="489.2"/><use href="#p" x="397.4" y="471.7"/><use href="#p" x="425" y="406.6"/><use href="#p" x="444.5" y="455.8"/><use href="#p" x="287.2" y="493.1"/><use href="#p" x="418.9" y="418.1"/><use href="#p" x="380.2" y="415"/><use href="#p" x="327" y="435.1"/><use href="#p" x="310.1" y="484.4"/><use href="#p" x="341.9" y="434.8"/><use href="#p" x="381.6" y="449.2"/><use href="#p" x="394.1" y="420.4"/><use href="#p" x="360.5" y="436.4"/><use href="#p" x="318.8" y="449.8"/><use href="#p" x="316.8" y="493.5"/><use href="#p" x="304.5" y="464.3"/><use href="#p" x="328.6" y="446.8"/><use href="#p" x="367.6" y="451.7"/><use href="#p" x="346.3" y="464.8"/><use href="#p" x="409.5" y="439.8"/><use href="#p" x="363.9" y="444.9"/><use href="#p" x="425.6" y="398.6"/><use href="#p" x="372.9" y="431.6"/><use href="#p" x="415.6" y="444.7"/><use href="#p" x="424.3" y="402.4"/><use href="#p" x="298.4" y="514.4"/><use href="#p" x="319.8" y="489.9"/><use href="#p" x="370.6" y="458.2"/><use href="#p" x="481.5" y="406.8"/><use href="#p" x="334.5" y="483.6"/><use href="#p" x="370.2" y="420.1"/><use href="#p" x="292.5" y="512.5"/><use href="#p" x="344.8" y="426"/><use href="#p" x="325.7" y="469.5"/><use href="#p" x="415" y="423.4"/><use href="#p" x="420.8" y="432.8"/><use href="#p" x="354.4" y="473.1"/><use href="#p" x="429.4" y="406"/><use href="#p" x="391.3" y="450.3"/><use href="#p" x="306.6" y="451.4"/><use href="#p" x="408.6" y="472.9"/><use href="#p" x="368.3" y="430.8"/><use href="#p" x="395.1" y="404.6"/><use href="#p" x="301" y="497.6"/><use href="#p" x="371.4" y="408.7"/><use href="#p" x="380.3" y="419"/><use href="#p" x="335.2" y="465.1"/><use href="#p" x="319.1" y="489.4"/><use href="#p" x="369.4" y="464.8"/><use href="#p" x="355.9" y="470.6"/><use href="#p" x="402.3" y="418.5"/><use href="#p" x="450.5" y="448.8"/><use href="#p" x="387.5" y="383.4"/><use href="#p" x="362" y="449"/><use href="#p" x="366.5" y="421"/><use href="#p" x="434" y="429.2"/><use href="#p" x="455.1" y="440"/><use href="#p" x="455.3" y="457.7"/><use href="#p" x="417.3" y="433.4"/><use href="#p" x="339.3" y="473.3"/><use href="#p" x="374" y="460.7"/><use href="#p" x="322.3" y="467.2"/><use href="#p" x="416.1" y="444"/><use href="#p" x="370.2" y="404.5"/><use href="#p" x="417.9" y="412.6"/><use href="#p" x="435.9" y="416.5"/><use href="#p" x="378.6" y="435.7"/><use href="#p" x="378.5" y="415.3"/><use href="#p" x="339.1" y="440.8"/><use href="#p" x="392.7" y="465.9"/><use href="#p" x="387.9" y="418.9"/><use href="#p" x="369.7" y="424.4"/><use href="#p" x="293.8" y="514.8"/><use href="#p" x="399.2" y="433.7"/><use href="#p" x="405.9" y="449.4"/><use href="#p" x="388" y="436.3"/><use href="#p" x="369.5" y="460.2"/><use href="#p" x="385.2" y="433.7"/><use href="#p" x="446.7" y="397.5"/><use href="#p" x="404.2" y="400.8"/><use href="#p" x="388.9" y="434.4"/><use href="#p" x="393.8" y="402.1"/><use href="#p" x="481.1" y="419.4"/><use href="#p" x="386.5" y="445.4"/><use href="#p" x="421.8" y="422.3"/><use href="#p" x="354.7" y="501.6"/><use href="#p" x="358.9" y="477.5"/><use href="#p" x="319.8" y="431.5"/><use href="#p" x="458.7" y="442.6"/><use href="#p" x="388.4" y="396.3"/><use href="#p" x="446.5" y="433.8"/><use href="#p" x="376.1" y="452.6"/><use href="#p" x="454.3" y="389.5"/><use href="#p" x="384.4" y="418.3"/><use href="#p" x="390.9" y="469.2"/><use href="#p" x="424" y="402.7"/><use href="#p" x="375.2" y="431.2"/><use href="#p" x="435.3" y="435.8"/><use href="#p" x="406.3" y="441.1"/><use href="#p" x="330.8" y="486.8"/><use href="#p" x="356.6" y="435.9"/><use href="#p" x="436.4" y="454.4"/><use href="#p" x="364" y="461.2"/><use href="#p" x="405.6" y="471.6"/><use href="#p" x="428.4" y="433"/><use href="#p" x="393.5" y="370.6"/><use href="#p" x="286.1" y="511.9"/><use href="#p" x="404" y="458.1"/><use href="#p" x="322" y="485.8"/><use href="#p" x="456.3" y="454.3"/><use href="#p" x="436.2" y="445.6"/><use href="#p" x="377" y="493.3"/><use href="#p" x="334.9" y="515.8"/><use href="#p" x="431.9" y="405.1"/><use href="#p" x="451.7" y="427.3"/><use href="#p" x="414.9" y="396"/><use href="#p" x="422.5" y="417.2"/><use href="#p" x="353.3" y="439.1"/><use href="#p" x="292" y="512.3"/><use href="#p" x="326.2" y="493.1"/><use href="#p" x="325.7" y="481"/><use href="#p" x="423.3" y="419.4"/><use href="#p" x="417.4" y="403.8"/><use href="#p" x="393.5" y="445.3"/><use href="#p" x="327.1" y="483"/><use href="#p" x="339.1" y="442.6"/><use href="#p" x="349.5" y="431.1"/><use href="#p" x="384.1" y="437.9"/><use href="#p" x="346.9" y="478.1"/><use href="#p" x="286.3" y="501.2"/><use href="#p" x="423" y="457.1"/><use href="#p" x="338.5" y="445.6"/><use href="#p" x="475.1" y="406.1"/><use href="#p" x="413.6" y="416.9"/><use href="#p" x="315.9" y="431.2"/><use href="#p" x="366.7" y="460.2"/><use href="#p" x="355.7" y="442.6"/><use href="#p" x="390.3" y="487.4"/><use href="#p" x="388.6" y="430.1"/><use href="#p" x="430.1" y="413.2"/><use href="#p" x="446.6" y="438.9"/><use href="#p" x="511.6" y="401"/><use href="#p" x="406.1" y="398.5"/><use href="#p" x="372" y="405.4"/><use href="#p" x="386.2" y="471.4"/><use href="#p" x="425.1" y="398.7"/><use href="#p" x="426.8" y="436.9"/><use href="#p" x="415.7" y="450.7"/><use href="#p" x="409.7" y="443.6"/><use href="#p" x="382.8" y="475.1"/><use href="#p" x="356.6" y="395.3"/><use href="#p" x="449.2" y="408.1"/><use href="#p" x="361" y="441.5"/><use href="#p" x="333.6" y="466.7"/><use href="#p" x="308.8" y="516.8"/><use href="#p" x="368.9" y="443.5"/><use href="#p" x="440.5" y="422.7"/><use href="#p" x="434" y="412.4"/><use href="#p" x="405.2" y="392.9"/><use href="#p" x="335.2" y="457.1"/><use href="#p" x="487.1" y="409.3"/><use href="#p" x="321.5" y="440.7"/><use href="#p" x="383" y="439.5"/><use href="#p" x="303.4" y="516.9"/><use href="#p" x="377.3" y="452.6"/><use href="#p" x="342.2" y="428.6"/><use href="#p" x="398.2" y="407.8"/><use href="#p" x="429.3" y="395.3"/><use href="#p" x="389.8" y="428.2"/><use href="#p" x="425.8" y="385"/><use href="#p" x="324.3" y="495.2"/><use href="#p" x="383.3" y="439"/><use href="#p" x="321.3" y="508"/><use href="#p" x="441.8" y="380.2"/><use href="#p" x="454.8" y="410.7"/><use href="#p" x="362.4" y="449.5"/><use href="#p" x="289.2" y="485.3"/><use href="#p" x="432.7" y="460.6"/><use href="#p" x="355.4" y="441.7"/><use href="#p" x="444" y="392"/><use href="#p" x="421" y="441.3"/><use href="#p" x="289.8" y="499.8"/><use href="#p" x="370.4" y="428.9"/><use href="#p" x="426.7" y="424.9"/><use href="#p" x="359.5" y="469.9"/><use href="#p" x="362.9" y="426.9"/><use href="#p" x="311.2" y="494.1"/><use href="#p" x="408.1" y="464.8"/><use href="#p" x="433.6" y="410.9"/><use href="#p" x="378.8" y="448.2"/><use href="#p" x="375.2" y="464.9"/><use href="#p" x="369.1" y="430.5"/><use href="#p" x="437.6" y="403.8"/><use href="#p" x="294.9" y="509.1"/><use href="#p" x="364.4" y="470.9"/><use href="#p" x="333.1" y="468.2"/><use href="#p" x="366.9" y="470.9"/><use href="#p" x="359" y="473.3"/><use href="#p" x="364.9" y="411.4"/><use href="#p" x="322.2" y="503.1"/><use href="#p" x="435.8" y="407.5"/><use href="#p" x="395.1" y="405.2"/><use href="#p" x="454.4" y="401.6"/><use href="#p" x="362" y="409"/><use href="#p" x="312.1" y="468.3"/><use href="#p" x="411.3" y="435.9"/><use href="#p" x="357.7" y="427.2"/><use href="#p" x="439.3" y="402.2"/><use href="#p" x="402.6" y="439.7"/><use href="#p" x="375.2" y="391.7"/><use href="#p" x="358.8" y="443.5"/><use href="#p" x="424.2" y="418.1"/><use href="#p" x="352.3" y="495.8"/><use href="#p" x="291.4" y="499.9"/><use href="#p" x="380.4" y="448.4"/><use href="#p" x="286.7" y="497.6"/><use href="#p" x="375.5" y="422.2"/><use href="#p" x="337.7" y="503.3"/><use href="#p" x="352.6" y="456.8"/><use href="#p" x="408.1" y="433.4"/><use href="#p" x="408.1" y="422.4"/><use href="#p" x="396.3" y="434.2"/><use href="#p" x="317" y="436.5"/><use href="#p" x="271.7" y="510.5"/><use href="#p" x="499.4" y="400.8"/><use href="#p" x="357.3" y="431.1"/><use href="#p" x="388.3" y="422.3"/><use href="#p" x="455.4" y="390.7"/><use href="#p" x="405.8" y="467.4"/><use href="#p" x="411.2" y="422.6"/><use href="#p" x="321.6" y="511.4"/><use href="#p" x="342.9" y="483.7"/><use href="#p" x="317.4" y="447.2"/><use href="#p" x="365.2" y="435.6"/><use href="#p" x="416.8" y="434.3"/><use href="#p" x="537" y="412.9"/><use href="#p" x="390.3" y="394.7"/><use href="#p" x="354.6" y="441.1"/><use href="#p" x="314.8" y="460"/><use href="#p" x="389.2" y="392.3"/><use href="#p" x="380.4" y="402.7"/><use href="#p" x="434.4" y="425.3"/><use href="#p" x="392.6" y="464.5"/><use href="#p" x="437.3" y="409.1"/><use href="#p" x="350.1" y="481.3"/><use href="#p" x="304.3" y="486.1"/><use href="#p" x="468.9" y="405.6"/><use href="#p" x="444" y="412"/><use href="#p" x="361.5" y="484"/><use href="#p" x="326.5" y="435.4"/><use href="#p" x="309" y="464.9"/><use href="#p" x="374.5" y="434.9"/><use href="#p" x="411.4" y="399"/><use href="#p" x="427.9" y="367.3"/><use href="#p" x="404.7" y="393.9"/><use href="#p" x="410.6" y="438"/><use href="#p" x="312.4" y="439.4"/><use href="#p" x="348.8" y="479.3"/><use href="#p" x="441.5" y="423.4"/><use href="#p" x="443.5" y="430.1"/><use href="#p" x="377.9" y="396.7"/><use href="#p" x="304.1" y="468.7"/><use href="#p" x="338.7" y="413.9"/><use href="#p" x="358.1" y="499.1"/><use href="#p" x="329.7" y="421.9"/><use href="#p" x="374.5" y="419.5"/><use href="#p" x="353" y="463.3"/><use href="#p" x="447.4" y="406.2"/><use href="#p" x="444" y="433.9"/><use href="#p" x="363.6" y="429"/><use href="#p" x="311.3" y="485.8"/><use href="#p" x="354.3" y="462"/><use href="#p" x="313.1" y="466.5"/><use href="#p" x="354.7" y="397.5"/><use href="#p" x="333.5" y="430.1"/><use href="#p" x="440.5" y="437.9"/><use href="#p" x="429.2" y="406.1"/><use href="#p" x="441.3" y="440.4"/><use href="#p" x="273.9" y="512.1"/><use href="#p" x="449.6" y="400.8"/><use href="#p" x="393" y="381.9"/><use href="#p" x="343.1" y="443.3"/><use href="#p" x="379.1" y="440"/><use href="#p" x="412.6" y="408.5"/><use href="#p" x="422" y="387.3"/><use href="#p" x="432.2" y="429.4"/><use href="#p" x="377.6" y="442"/><use href="#p" x="415.8" y="401.5"/><use href="#p" x="381.3" y="458.8"/><use href="#p" x="354.4" y="483.3"/><use href="#p" x="428.6" y="418"/><use href="#p" x="355.2" y="497.8"/><use href="#p" x="430.2" y="389.6"/><use href="#p" x="328.1" y="443.1"/><use href="#p" x="433.3" y="375"/><use href="#p" x="369.4" y="457.9"/><use href="#p" x="406.9" y="471"/><use href="#p" x="404.2" y="462.9"/><use href="#p" x="312.1" y="511.1"/><use href="#p" x="457.2" y="420.6"/><use href="#p" x="389.9" y="414.4"/><use href="#p" x="332.1" y="443.4"/><use href="#p" x="309.3" y="475.4"/><use href="#p" x="429.6" y="405"/><use href="#p" x="398.4" y="368.3"/><use href="#p" x="380.7" y="440.6"/><use href="#p" x="407" y="452.9"/><use href="#p" x="326.7" y="446.1"/><use href="#p" x="415.9" y="414.5"/><use href="#p" x="391.6" y="480.7"/><use href="#p" x="369.4" y="386.8"/><use href="#p" x="463.4" y="413.9"/><use href="#p" x="352.5" y="474.5"/><use href="#p" x="364.4" y="445.3"/><use href="#p" x="443.1" y="427.8"/><use href="#p" x="384.5" y="444.3"/><use href="#p" x="377.7" y="417.1"/><use href="#p" x="347.8" y="418.8"/><use href="#p" x="335.4" y="461.1"/><use href="#p" x="437.7" y="393"/><use href="#p" x="384.9" y="394.6"/><use href="#p" x="434.3" y="457.3"/><use href="#p" x="422" y="364.5"/><use href="#p" x="371.3" y="434.8"/><use href="#p" x="423.2" y="431.9"/><use href="#p" x="359.6" y="474.2"/><use href="#p" x="381.6" y="407.1"/><use href="#p" x="425.5" y="401.4"/><use href="#p" x="382.5" y="424.3"/><use href="#p" x="325.7" y="471.8"/><use href="#p" x="406.1" y="434.5"/><use href="#p" x="333.7" y="475.8"/><use href="#p" x="421.7" y="398.6"/><use href="#p" x="312.5" y="440.5"/><use href="#p" x="410.3" y="373.3"/><use href="#p" x="394" y="393.8"/><use href="#p" x="290.1" y="516.3"/><use href="#p" x="459.9" y="411.9"/><use href="#p" x="412" y="433.8"/><use href="#p" x="365.5" y="429"/><use href="#p" x="532.8" y="401.8"/><use href="#p" x="310.9" y="481.1"/><use href="#p" x="494.8" y="422.4"/><use href="#p" x="323.7" y="448.5"/><use href="#p" x="406.1" y="442.4"/><use href="#p" x="352.2" y="458.9"/><use href="#p" x="435.6" y="396.3"/><use href="#p" x="358.1" y="436.6"/><use href="#p" x="348" y="510.8"/><use href="#p" x="383.4" y="384"/><use href="#p" x="418.9" y="410.7"/><use href="#p" x="436.1" y="450.2"/><use href="#p" x="333.9" y="457.9"/><use href="#p" x="456.1" y="398.6"/><use href="#p" x="405.9" y="427.2"/><use href="#p" x="355.1" y="424.3"/><use href="#p" x="367.5" y="425.6"/><use href="#p" x="354.5" y="463"/><use href="#p" x="350.6" y="461.4"/><use href="#p" x="371.6" y="484.2"/><use href="#p" x="403" y="451.8"/><use href="#p" x="486.9" y="418.5"/><use href="#p" x="302" y="456"/><use href="#p" x="440.4" y="411"/><use href="#p" x="326" y="509.2"/><use href="#p" x="333.9" y="418.1"/><use href="#p" x="329.1" y="449.9"/><use href="#p" x="506.8" y="401.8"/><use href="#p" x="429.7" y="378.1"/><use href="#p" x="390.2" y="459.7"/><use href="#p" x="373.3" y="446.9"/><use href="#p" x="487.2" y="420.3"/><use href="#p" x="363.6" y="425.6"/><use href="#p" x="347.4" y="505.9"/><use href="#p" x="334.3" y="487.8"/><use href="#p" x="343.8" y="439.1"/><use href="#p" x="406.8" y="433.2"/><use href="#p" x="354.3" y="469.6"/><use href="#p" x="409.1" y="406.3"/><use href="#p" x="429" y="441.2"/><use href="#p" x="456.8" y="397.2"/><use href="#p" x="363.9" y="471.3"/><use href="#p" x="387.2" y="460.2"/><use href="#p" x="333.8" y="497.3"/><use href="#p" x="433.6" y="434.5"/><use href="#p" x="411" y="411.4"/><use href="#p" x="301.7" y="481.8"/><use href="#p" x="315.4" y="447.8"/><use href="#p" x="410.9" y="430.9"/><use href="#p" x="387.4" y="428.7"/><use href="#p" x="502.9" y="411.8"/><use href="#p" x="393.5" y="396.2"/><use href="#p" x="390.6" y="435.3"/><use href="#p" x="450.2" y="380.5"/><use href="#p" x="399.7" y="466.5"/><use href="#p" x="449.7" y="409.7"/><use href="#p" x="438.2" y="417.2"/><use href="#p" x="394.3" y="375.2"/><use href="#p" x="307.5" y="495"/><use href="#p" x="350.1" y="465.9"/><use href="#p" x="382.8" y="410.2"/><use href="#p" x="346.9" y="499.8"/><use href="#p" x="385.2" y="448.3"/><use href="#p" x="370.5" y="425.6"/><use href="#p" x="443.5" y="426.4"/><use href="#p" x="301.7" y="506.9"/><use href="#p" x="347.9" y="456.7"/><use href="#p" x="439.2" y="363.5"/><use href="#p" x="400.9" y="405.9"/><use href="#p" x="314.6" y="431.1"/><use href="#p" x="442.3" y="403"/><use href="#p" x="278.2" y="504.2"/><use href="#p" x="398.7" y="414.1"/><use href="#p" x="388.5" y="441.2"/><use href="#p" x="341.6" y="430.7"/><use href="#p" x="515.7" y="422.8"/><use href="#p" x="328.8" y="423.2"/><use href="#p" x="390.5" y="389.6"/><use href="#p" x="344.9" y="470.2"/><use href="#p" x="362.3" y="432.1"/><use href="#p" x="477.4" y="405.4"/><use href="#p" x="442.9" y="385.7"/><use href="#p" x="409.7" y="414.6"/><use href="#p" x="380.1" y="390.5"/><use href="#p" x="370" y="468.5"/><use href="#p" x="331.3" y="465.3"/><use href="#p" x="414.6" y="456.7"/><use href="#p" x="340.7" y="491.5"/><use href="#p" x="376.6" y="438.2"/><use href="#p" x="408" y="456.5"/><use href="#p" x="313.3" y="472.1"/><use href="#p" x="301.9" y="492.8"/><use href="#p" x="316.2" y="450"/><use href="#p" x="441.3" y="391.4"/><use href="#p" x="306.6" y="485.9"/><use href="#p" x="365.1" y="498.5"/><use href="#p" x="399.1" y="428.6"/><use href="#p" x="483.6" y="405.1"/><use href="#p" x="352" y="476.4"/><use href="#p" x="330.5" y="445.1"/><use href="#p" x="358.1" y="506.3"/><use href="#p" x="364.3" y="384.7"/><use href="#p" x="404.6" y="461.7"/><use href="#p" x="432.3" y="405.5"/><use href="#p" x="440.3" y="388.9"/><use href="#p" x="330.3" y="448.1"/><use href="#p" x="469" y="425"/><use href="#p" x="385.6" y="436.9"/><use href="#p" x="389.4" y="377.1"/><use href="#p" x="417.9" y="409.1"/><use href="#p" x="434.4" y="409"/><use href="#p" x="350.7" y="449.3"/><use href="#p" x="358.9" y="480"/><use href="#p" x="413" y="434.2"/><use href="#p" x="384.5" y="373.4"/><use href="#p" x="429.1" y="409.3"/><use href="#p" x="316.3" y="513.3"/><use href="#p" x="379.4" y="421"/><use href="#p" x="317" y="461.8"/><use href="#p" x="377.8" y="457.3"/><use href="#p" x="425.3" y="411.7"/><use href="#p" x="371.6" y="442.1"/><use href="#p" x="365.1" y="396.7"/><use href="#p" x="362.7" y="461.8"/><use href="#p" x="356.7" y="487.9"/><use href="#p" x="376.8" y="438.2"/><use href="#p" x="337.9" y="410.3"/><use href="#p" x="384.5" y="436.4"/><use href="#p" x="310.3" y="481.2"/><use href="#p" x="322.4" y="433.9"/><use href="#p" x="430.5" y="404.3"/><use href="#p" x="393.4" y="434.8"/><use href="#p" x="380" y="461.4"/><use href="#p" x="399" y="433.9"/><use href="#p" x="392.5" y="390.1"/><use href="#p" x="389.1" y="420.8"/><use href="#p" x="368.9" y="479.4"/><use href="#p" x="380.3" y="398.5"/><use href="#p" x="409.7" y="452.9"/><use href="#p" x="365.3" y="424.5"/><use href="#p" x="422.1" y="438.8"/><use href="#p" x="314.9" y="480.8"/><use href="#p" x="371.9" y="454.5"/><use href="#p" x="404.5" y="432.7"/><use href="#p" x="385.4" y="470.3"/><use href="#p" x="400.8" y="400"/><use href="#p" x="372.6" y="458.1"/><use href="#p" x="426.3" y="417.5"/><use href="#p" x="376.5" y="455.6"/><use href="#p" x="372.6" y="435.4"/><use href="#p" x="455" y="398.3"/><use href="#p" x="450.9" y="392.9"/><use href="#p" x="363.1" y="491"/><use href="#p" x="339.3" y="498"/><use href="#p" x="404.6" y="417.9"/><use href="#p" x="435.7" y="372.5"/><use href="#p" x="361.2" y="422.7"/><use href="#p" x="433.9" y="407"/><use href="#p" x="466.3" y="422.2"/><use href="#p" x="348.1" y="506.1"/><use href="#p" x="328.8" y="471.9"/><use href="#p" x="348.3" y="487.2"/><use href="#p" x="389" y="428.2"/><use href="#p" x="444.9" y="383.9"/><use href="#p" x="373.9" y="454.6"/><use href="#p" x="410" y="461.3"/><use href="#p" x="329" y="469.9"/><use href="#p" x="387.2" y="456.3"/><use href="#p" x="381.3" y="396.6"/><use href="#p" x="297.8" y="486.9"/><use href="#p" x="303.9" y="496.1"/><use href="#p" x="372.5" y="383"/><use href="#p" x="350.9" y="478.1"/><use href="#p" x="407.5" y="445.7"/><use href="#p" x="418.2" y="402.9"/><use href="#p" x="468.7" y="400.5"/><use href="#p" x="402.8" y="405.8"/><use href="#p" x="339.6" y="424.5"/><use href="#p" x="374" y="492.3"/><use href="#p" x="285.6" y="502.9"/><use href="#p" x="412.7" y="392.5"/><use href="#p" x="467.1" y="406.8"/><use href="#p" x="341.7" y="417.2"/><use href="#p" x="348.8" y="441.7"/><use href="#p" x="478.5" y="406.4"/><use href="#p" x="323.7" y="509.1"/><use href="#p" x="324.2" y="483.7"/><use href="#p" x="447.5" y="418.4"/><use href="#p" x="373.2" y="488.3"/><use href="#p" x="383" y="414.7"/><use href="#p" x="430.4" y="434.1"/><use href="#p" x="396.4" y="465.5"/><use href="#p" x="421.9" y="405.5"/><use href="#p" x="415.5" y="370.1"/><use href="#p" x="376.1" y="408.4"/><use href="#p" x="335.1" y="455.4"/><use href="#p" x="324.6" y="462.4"/><use href="#p" x="372.5" y="405.4"/><use href="#p" x="366.6" y="437.6"/><use href="#p" x="378.2" y="453.5"/><use href="#p" x="358.9" y="476.6"/><use href="#p" x="306.4" y="489.3"/><use href="#p" x="424" y="413.9"/><use href="#p" x="390.5" y="444.5"/><use href="#p" x="430.5" y="425.2"/><use href="#p" x="480.3" y="401.3"/><use href="#p" x="382.8" y="433.2"/><use href="#p" x="373.8" y="432.8"/><use href="#p" x="330.3" y="469.9"/><use href="#p" x="403.5" y="412.2"/><use href="#p" x="363.7" y="454.7"/><use href="#p" x="329.5" y="448"/><use href="#p" x="427.8" y="438.5"/><use href="#p" x="375.5" y="406"/><use href="#p" x="321.6" y="488.6"/><use href="#p" x="343.3" y="469.9"/><use href="#p" x="400.6" y="424.7"/><use href="#p" x="400.5" y="402.8"/><use href="#p" x="381.5" y="477.3"/><use href="#p" x="424.2" y="418.2"/><use href="#p" x="416.7" y="424"/><use href="#p" x="315" y="464.4"/><use href="#p" x="430.6" y="455.4"/><use href="#p" x="304.3" y="503"/><use href="#p" x="441" y="401.6"/><use href="#p" x="352.4" y="508"/><use href="#p" x="368.4" y="480.9"/><use href="#p" x="390.1" y="396.8"/><use href="#p" x="344.5" y="443.6"/><use href="#p" x="348.9" y="478.8"/><use href="#p" x="390.9" y="376.4"/><use href="#p" x="350.7" y="417.8"/><use href="#p" x="304.6" y="510.2"/><use href="#p" x="306.9" y="490.6"/><use href="#p" x="377.3" y="435.8"/><use href="#p" x="386" y="452.2"/><use href="#p" x="454.4" y="412"/><use href="#p" x="414.6" y="455.1"/><use href="#p" x="331" y="454.2"/><use href="#p" x="361" y="474.2"/><use href="#p" x="348" y="501.4"/><use href="#p" x="396.3" y="438.9"/><use href="#p" x="376.5" y="505.5"/><use href="#p" x="385.1" y="421.7"/><use href="#p" x="425.3" y="404.9"/><use href="#p" x="384.7" y="437.6"/><use href="#p" x="279.2" y="512.2"/><use href="#p" x="404.1" y="466.1"/><use href="#p" x="437.8" y="390.7"/><use href="#p" x="302" y="460.6"/><use href="#p" x="327.2" y="428.7"/><use href="#p" x="293.8" y="491.7"/><use href="#p" x="393.7" y="470.6"/><use href="#p" x="481.1" y="402.1"/><use href="#p" x="307.8" y="482.6"/><use href="#p" x="514.2" y="402.1"/><use href="#p" x="405.6" y="390.3"/><use href="#p" x="433.7" y="439.1"/><use href="#p" x="446.2" y="411.2"/><use href="#p" x="368.2" y="436.4"/><use href="#p" x="286.9" y="512.3"/><use href="#p" x="445.6" y="429.3"/><use href="#p" x="339.6" y="501.9"/><use href="#p" x="406" y="387.5"/><use href="#p" x="309.4" y="486.3"/><use href="#p" x="365.5" y="464.9"/><use href="#p" x="451.4" y="468.1"/><use href="#p" x="381.6" y="463.5"/><use href="#p" x="450.2" y="413.8"/><use href="#p" x="382.7" y="414.4"/><use href="#p" x="413.6" y="427.9"/><use href="#p" x="408.4" y="423"/><use href="#p" x="435" y="413.1"/><use href="#p" x="444.6" y="421.9"/><use href="#p" x="444.4" y="448"/><use href="#p" x="355.2" y="405.6"/><use href="#p" x="418.9" y="465.6"/><use href="#p" x="332.8" y="514.3"/><use href="#p" x="387.3" y="417.5"/><use href="#p" x="349.6" y="440.3"/><use href="#p" x="390.2" y="412.7"/><use href="#p" x="391.2" y="411.7"/><use href="#p" x="416.2" y="469.4"/><use href="#p" x="348.1" y="472.3"/><use href="#p" x="345.6" y="429.2"/><use href="#p" x="444.1" y="389"/><use href="#p" x="400.2" y="458.5"/><use href="#p" x="433.2" y="393.7"/><use href="#p" x="428.3" y="479.1"/><use href="#p" x="414.5" y="387.6"/><use href="#p" x="305.7" y="473.7"/><use href="#p" x="381.1" y="440"/><use href="#p" x="366.5" y="444.5"/><use href="#p" x="356.7" y="489.5"/><use href="#p" x="383.8" y="379.4"/><use href="#p" x="321.2" y="450.1"/><use href="#p" x="419.7" y="408.7"/><use href="#p" x="404.4" y="426.9"/><use href="#p" x="330.6" y="457.4"/><use href="#p" x="479.6" y="420.3"/><use href="#p" x="333.8" y="428.7"/><use href="#p" x="416.2" y="424.7"/><use href="#p" x="382.1" y="429"/><use href="#p" x="376" y="507.5"/><use href="#p" x="365.5" y="481.3"/><use href="#p" x="342.2" y="461.3"/><use href="#p" x="432.4" y="439.7"/><use href="#p" x="410.7" y="406.3"/><use href="#p" x="437" y="405.7"/><use href="#p" x="431.4" y="405.8"/><use href="#p" x="425.3" y="387.2"/><use href="#p" x="367.6" y="423.4"/><use href="#p" x="362.9" y="430"/><use href="#p" x="378.1" y="479.5"/><use href="#p" x="387.2" y="406.8"/><use href="#p" x="425.6" y="424"/><use href="#p" x="341.9" y="471.7"/><use href="#p" x="426.9" y="439.9"/><use href="#p" x="344.6" y="485.7"/><use href="#p" x="387.7" y="388.4"/><use href="#p" x="362.5" y="446.7"/><use href="#p" x="361" y="477.4"/><use href="#p" x="368.6" y="485.3"/><use href="#p" x="421.8" y="417.7"/><use href="#p" x="445.3" y="382.4"/><use href="#p" x="362.7" y="426.3"/><use href="#p" x="430.5" y="433.7"/><use href="#p" x="344.1" y="444.7"/><use href="#p" x="347.9" y="500.9"/><use href="#p" x="353.1" y="469"/><use href="#p" x="447.5" y="401.2"/><use href="#p" x="401.1" y="433.8"/><use href="#p" x="342.3" y="438.2"/><use href="#p" x="364.2" y="449.9"/><use href="#p" x="431.9" y="411"/><use href="#p" x="274.2" y="509"/><use href="#p" x="355.8" y="403"/><use href="#p" x="336.3" y="424"/><use href="#p" x="427.7" y="441.6"/><use href="#p" x="343.7" y="441.7"/><use href="#p" x="285.9" y="505.8"/><use href="#p" x="321" y="499.7"/><use href="#p" x="327" y="473.9"/><use href="#p" x="395" y="440.1"/><use href="#p" x="397.8" y="434.3"/><use href="#p" x="434.5" y="451.2"/><use href="#p" x="299.1" y="495.3"/><use href="#p" x="427.8" y="440.4"/><use href="#p" x="368" y="412.7"/><use href="#p" x="321.6" y="541.3"/><use href="#p" x="337.1" y="523.4"/><use href="#p" x="316.6" y="545.7"/><use href="#p" x="279.8" y="519.7"/><use href="#p" x="288.8" y="554.5"/><use href="#p" x="263.1" y="540.1"/><use href="#p" x="278.8" y="537.3"/><use href="#p" x="263.2" y="553.3"/><use href="#p" x="287.7" y="523.5"/><use href="#p" x="285.6" y="528.9"/><use href="#p" x="286.3" y="536.8"/><use href="#p" x="296.1" y="545.8"/><use href="#p" x="262.6" y="562.7"/><use href="#p" x="326.7" y="525.1"/><use href="#p" x="237.8" y="556.6"/><use href="#p" x="261.1" y="521.8"/><use href="#p" x="296.9" y="541.9"/><use href="#p" x="252.2" y="541.5"/><use href="#p" x="283.3" y="530.3"/><use href="#p" x="289" y="566.4"/><use href="#p" x="330.6" y="525.5"/><use href="#p" x="262.9" y="548.5"/><use href="#p" x="275.8" y="542"/><use href="#p" x="310.2" y="540.1"/><use href="#p" x="253" y="568.1"/><use href="#p" x="325.1" y="517.4"/><use href="#p" x="270.2" y="545"/><use href="#p" x="267.7" y="536.6"/><use href="#p" x="293.9" y="533.4"/><use href="#p" x="273.4" y="530.3"/><use href="#p" x="259.3" y="552.4"/><use href="#p" x="322.9" y="527.2"/><use href="#p" x="272.9" y="537"/><use href="#p" x="297.9" y="519.6"/><use href="#p" x="259.2" y="526.8"/><use href="#p" x="275.9" y="538"/><use href="#p" x="280.3" y="541.1"/><use href="#p" x="279" y="545.5"/><use href="#p" x="281" y="541.7"/><use href="#p" x="274.2" y="533.9"/><use href="#p" x="298.1" y="557.9"/><use href="#p" x="294.1" y="536.1"/><use href="#p" x="281.9" y="519.7"/><use href="#p" x="260.8" y="544.3"/><use href="#p" x="316" y="534.5"/><use href="#p" x="265" y="540.3"/><use href="#p" x="315.5" y="533.1"/><use href="#p" x="299" y="519.4"/><use href="#p" x="304.8" y="542.8"/><use href="#p" x="322.5" y="533.9"/><use href="#p" x="463.7" y="415.9"/><use href="#p" x="478.3" y="404.8"/><use href="#p" x="530.5" y="407.5"/><use href="#p" x="524.7" y="407"/><use href="#p" x="480.9" y="410.1"/><use href="#p" x="535.1" y="410"/><use href="#p" x="496.6" y="402"/><use href="#p" x="519.7" y="418.4"/><use href="#p" x="495.8" y="417"/><use href="#p" x="506.6" y="402.8"/><use href="#p" x="471.7" y="403.6"/><use href="#p" x="497.9" y="400.6"/><use href="#p" x="494.8" y="404.7"/><use href="#p" x="504.8" y="410.5"/><use href="#p" x="495.3" y="406.7"/><use href="#p" x="470.8" y="419.8"/><use href="#p" x="464.9" y="410.9"/><use href="#p" x="532" y="418.2"/><use href="#p" x="494.5" y="410.8"/><use href="#p" x="507.2" y="414.1"/><use href="#p" x="532.9" y="405.5"/><use href="#p" x="472.3" y="411.8"/><use href="#p" x="497.9" y="410.5"/><use href="#p" x="539" y="404.5"/><use href="#p" x="466.4" y="404.1"/>
</g>
<g>
<use href="#y" x="709.4" y="412.7"/><use href="#y" x="709.4" y="417.8"/><use href="#y" x="476.4" y="450.7"/><use href="#y" x="522.9" y="476.5"/><use href="#y" x="528.5" y="509.3"/><use href="#y" x="467" y="535.4"/><use href="#y" x="526.4" y="435"/><use href="#y" x="462.3" y="446"/><use href="#y" x="264.6" y="417.8"/><use href="#y" x="289.2" y="408.5"/><use href="#y" x="289.2" y="410.8"/><use href="#y" x="298.1" y="401"/><use href="#y" x="315" y="394.4"/><use href="#y" x="318.5" y="387.8"/><use href="#y" x="341.5" y="387.3"/><use href="#y" x="302.1" y="412"/><use href="#y" x="291.6" y="437.8"/><use href="#y" x="278.2" y="464.3"/><use href="#y" x="259.9" y="468.3"/><use href="#y" x="259.9" y="481.2"/><use href="#y" x="302.1" y="420.2"/><use href="#y" x="302.1" y="428.4"/><use href="#y" x="289.2" y="456.6"/><use href="#y" x="271.6" y="488.2"/><use href="#y" x="427.6" y="491.7"/><use href="#y" x="447.1" y="489.4"/><use href="#y" x="435.4" y="474.1"/><use href="#y" x="426.5" y="468.3"/><use href="#y" x="445.2" y="504.6"/><use href="#y" x="405.3" y="519.2"/><use href="#y" x="401.1" y="523.4"/><use href="#y" x="380.7" y="519.2"/><use href="#y" x="380.7" y="525.8"/><use href="#y" x="366.6" y="528.1"/><use href="#y" x="365.5" y="534"/><use href="#y" x="348.6" y="548.5"/><use href="#y" x="388.9" y="552"/><use href="#y" x="448" y="550.4"/><use href="#y" x="398.3" y="478.8"/><use href="#y" x="390.1" y="489.4"/><use href="#y" x="245.2" y="569.7"/><use href="#y" x="260.9" y="567.4"/><use href="#y" x="270.3" y="566.2"/><use href="#y" x="260.9" y="561.5"/><use href="#y" x="415.4" y="317.5"/><use href="#y" x="455.3" y="313.1"/><use href="#y" x="343.2" y="340.5"/><use href="#y" x="348.6" y="341.2"/><use href="#y" x="327.4" y="351.8"/><use href="#y" x="362.4" y="353.4"/><use href="#y" x="345.5" y="356.9"/><use href="#y" x="426.5" y="344.5"/><use href="#y" x="415.9" y="353.4"/><use href="#y" x="394.8" y="360.5"/><use href="#y" x="374.8" y="368.7"/><use href="#y" x="363.1" y="383.9"/><use href="#y" x="392.4" y="374.5"/><use href="#y" x="426.5" y="367.5"/><use href="#y" x="435.8" y="375.7"/><use href="#y" x="630.1" y="267.8"/><use href="#y" x="597.8" y="403.9"/><use href="#y" x="597.8" y="407.8"/><use href="#y" x="570.4" y="405.4"/><use href="#y" x="570.4" y="414.8"/><use href="#y" x="542.3" y="414"/><use href="#y" x="541.6" y="423.4"/><use href="#y" x="482" y="337.4"/><use href="#y" x="513.2" y="344.8"/><use href="#y" x="548" y="331.6"/><use href="#y" x="496.3" y="353.5"/><use href="#y" x="482.4" y="357.9"/><use href="#y" x="458.3" y="354.3"/><use href="#y" x="464.9" y="357.2"/><use href="#y" x="456.1" y="363.8"/><use href="#y" x="468.5" y="372.6"/><use href="#y" x="459.8" y="381.3"/><use href="#y" x="468.5" y="382.1"/><use href="#y" x="443.7" y="378.4"/><use href="#y" x="490.5" y="387.9"/><use href="#y" x="516.1" y="383.5"/><use href="#y" x="516.8" y="389.4"/><use href="#y" x="475.9" y="395.2"/><use href="#y" x="442.9" y="389.4"/><use href="#y" x="364.2" y="454.9"/><use href="#y" x="362.8" y="433.4"/><use href="#y" x="334.3" y="465.1"/><use href="#y" x="386.7" y="403.4"/><use href="#y" x="346.4" y="414.7"/><use href="#y" x="407.3" y="421.3"/><use href="#y" x="377.7" y="420.1"/><use href="#y" x="410" y="412.2"/><use href="#y" x="410.1" y="411.1"/><use href="#y" x="384.1" y="432.3"/><use href="#y" x="374.8" y="386.8"/><use href="#y" x="398.7" y="428.9"/><use href="#y" x="342.1" y="458.1"/><use href="#y" x="427.7" y="387.6"/><use href="#y" x="389.4" y="442.5"/><use href="#y" x="450.9" y="401.7"/><use href="#y" x="359.7" y="415.5"/><use href="#y" x="448.2" y="381.1"/><use href="#y" x="342.1" y="422"/><use href="#y" x="360.1" y="473.1"/><use href="#y" x="363.9" y="440"/><use href="#y" x="359.9" y="422.2"/><use href="#y" x="367.2" y="457.5"/><use href="#y" x="397" y="462.7"/><use href="#y" x="397.2" y="383.5"/><use href="#y" x="306.1" y="497.7"/><use href="#y" x="423.2" y="397.4"/><use href="#y" x="343.2" y="441.8"/><use href="#y" x="409.9" y="452.8"/><use href="#y" x="376.8" y="438.9"/><use href="#y" x="387.7" y="460.6"/><use href="#y" x="366" y="439.6"/><use href="#y" x="359.6" y="421.4"/><use href="#y" x="308.8" y="466.5"/><use href="#y" x="318.2" y="455"/><use href="#y" x="351.6" y="452.7"/><use href="#y" x="318.6" y="490.7"/><use href="#y" x="394.4" y="419.6"/><use href="#y" x="404.3" y="392.2"/><use href="#y" x="393" y="405.5"/><use href="#y" x="412.2" y="399.4"/><use href="#y" x="419.8" y="440.5"/><use href="#y" x="419.3" y="424.8"/><use href="#y" x="453.4" y="411.4"/><use href="#y" x="380.5" y="415.9"/><use href="#y" x="354.5" y="492.9"/><use href="#y" x="388.5" y="467.9"/><use href="#y" x="440" y="395.8"/><use href="#y" x="379.2" y="453.7"/><use href="#y" x="343.3" y="427.4"/><use href="#y" x="327" y="438.9"/><use href="#y" x="428.8" y="382.6"/><use href="#y" x="402.1" y="441.2"/><use href="#y" x="329.9" y="475.8"/><use href="#y" x="312.8" y="509.2"/><use href="#y" x="353.6" y="445.4"/><use href="#y" x="351" y="426.3"/><use href="#y" x="437.2" y="426.6"/><use href="#y" x="321.6" y="485.3"/><use href="#y" x="422.7" y="400.8"/><use href="#y" x="353.6" y="459.5"/><use href="#y" x="352.7" y="432.9"/><use href="#y" x="304.3" y="455.1"/><use href="#y" x="313.5" y="474"/><use href="#y" x="434.2" y="425.4"/><use href="#y" x="329.2" y="494.6"/><use href="#y" x="376.9" y="390"/><use href="#y" x="330.6" y="498.7"/><use href="#y" x="344.6" y="436.2"/><use href="#y" x="326.1" y="504.4"/><use href="#y" x="338.9" y="437.9"/><use href="#y" x="388.4" y="435.7"/><use href="#y" x="334.5" y="438.4"/><use href="#y" x="352" y="505.2"/><use href="#y" x="440.3" y="430.9"/><use href="#y" x="350.7" y="429.4"/><use href="#y" x="355.7" y="486"/><use href="#y" x="406.6" y="412.5"/><use href="#y" x="325.7" y="493.3"/><use href="#y" x="407.5" y="407.8"/><use href="#y" x="402" y="438.8"/><use href="#y" x="406.4" y="382.1"/><use href="#y" x="321.2" y="491.4"/><use href="#y" x="359.4" y="407.3"/><use href="#y" x="394.2" y="425.9"/><use href="#y" x="423.8" y="406.2"/><use href="#y" x="309.7" y="484.5"/><use href="#y" x="388.9" y="414.7"/><use href="#y" x="413.9" y="429.3"/><use href="#y" x="364.4" y="480.3"/><use href="#y" x="362.1" y="406.1"/><use href="#y" x="350.8" y="436.3"/><use href="#y" x="358.6" y="423.7"/><use href="#y" x="314.3" y="488"/><use href="#y" x="431.5" y="403.4"/><use href="#y" x="348.3" y="493.5"/><use href="#y" x="339.7" y="444.8"/><use href="#y" x="399.1" y="398.4"/><use href="#y" x="373.9" y="409.7"/><use href="#y" x="426.9" y="457.7"/><use href="#y" x="367.8" y="400"/><use href="#y" x="394" y="407.5"/><use href="#y" x="354.7" y="479.4"/><use href="#y" x="398.4" y="403.2"/><use href="#y" x="330.6" y="495.6"/><use href="#y" x="413.2" y="447.4"/><use href="#y" x="407.2" y="409"/><use href="#y" x="347.5" y="455.3"/><use href="#y" x="377.5" y="441.3"/><use href="#y" x="311.2" y="460.1"/><use href="#y" x="351" y="457.9"/><use href="#y" x="322.1" y="510.9"/><use href="#y" x="359.8" y="443.7"/><use href="#y" x="430" y="392.1"/><use href="#y" x="429.3" y="391.9"/><use href="#y" x="410.6" y="442"/><use href="#y" x="401.4" y="440"/><use href="#y" x="363.3" y="438.6"/><use href="#y" x="370.1" y="469.9"/><use href="#y" x="295.3" y="514.5"/><use href="#y" x="343.2" y="457.4"/><use href="#y" x="404.1" y="447.3"/><use href="#y" x="425.5" y="398.6"/><use href="#y" x="422.6" y="434.7"/><use href="#y" x="468.4" y="411.7"/><use href="#y" x="318.7" y="486.2"/><use href="#y" x="329.9" y="462.4"/><use href="#y" x="429.1" y="437.4"/><use href="#y" x="327" y="429.4"/><use href="#y" x="406.3" y="428.2"/><use href="#y" x="415.9" y="424.9"/><use href="#y" x="332.2" y="451.3"/><use href="#y" x="390.7" y="431.3"/><use href="#y" x="276.1" y="508"/><use href="#y" x="327.5" y="424.2"/><use href="#y" x="321.6" y="487.5"/><use href="#y" x="395.2" y="462.6"/><use href="#y" x="318.7" y="469.3"/><use href="#y" x="303.8" y="477.3"/><use href="#y" x="375.2" y="482.2"/><use href="#y" x="423.6" y="438.7"/><use href="#y" x="334.3" y="412.3"/><use href="#y" x="476.8" y="405.4"/><use href="#y" x="329.4" y="475.6"/><use href="#y" x="380.2" y="380.3"/><use href="#y" x="334.4" y="444.7"/><use href="#y" x="424.3" y="437.1"/><use href="#y" x="298.1" y="504.1"/><use href="#y" x="487.8" y="408.8"/><use href="#y" x="396.9" y="437.3"/><use href="#y" x="404.1" y="409.7"/><use href="#y" x="316.6" y="487.1"/><use href="#y" x="399.5" y="446.6"/><use href="#y" x="316.3" y="447.1"/><use href="#y" x="330" y="510"/><use href="#y" x="349.1" y="458"/><use href="#y" x="402.4" y="408.6"/><use href="#y" x="388.2" y="429.1"/><use href="#y" x="390" y="431.7"/><use href="#y" x="383.2" y="436.6"/><use href="#y" x="426.2" y="433.3"/><use href="#y" x="350.5" y="468.6"/><use href="#y" x="443.9" y="407"/><use href="#y" x="365.5" y="457.3"/><use href="#y" x="309.6" y="460.6"/><use href="#y" x="351.9" y="449.7"/><use href="#y" x="425" y="402.3"/><use href="#y" x="446.8" y="440.6"/><use href="#y" x="368.4" y="436.4"/><use href="#y" x="376.9" y="414.9"/><use href="#y" x="345" y="421.2"/><use href="#y" x="354.3" y="420.6"/><use href="#y" x="389.6" y="384.6"/><use href="#y" x="370.3" y="414"/><use href="#y" x="351.1" y="458.1"/><use href="#y" x="398.6" y="443.8"/><use href="#y" x="305.6" y="516.8"/><use href="#y" x="299.9" y="481.9"/><use href="#y" x="395.8" y="416.1"/><use href="#y" x="447.8" y="415.9"/><use href="#y" x="409.6" y="436.3"/><use href="#y" x="437.8" y="412.2"/><use href="#y" x="375.1" y="419.7"/><use href="#y" x="418.2" y="396"/><use href="#y" x="338.9" y="504.3"/><use href="#y" x="410.3" y="419.1"/><use href="#y" x="367.8" y="433.2"/><use href="#y" x="357.2" y="472.6"/><use href="#y" x="446.6" y="389.2"/><use href="#y" x="340.5" y="461.3"/><use href="#y" x="362.1" y="437.9"/><use href="#y" x="415.7" y="427.3"/><use href="#y" x="385.8" y="408.5"/><use href="#y" x="389.4" y="416.5"/><use href="#y" x="395.2" y="440.8"/><use href="#y" x="369.1" y="457.4"/><use href="#y" x="397.4" y="430.6"/><use href="#y" x="438.9" y="411.3"/><use href="#y" x="428.3" y="449.7"/><use href="#y" x="414.2" y="414.5"/><use href="#y" x="367.7" y="488.1"/><use href="#y" x="339.3" y="457.6"/><use href="#y" x="427.5" y="395.2"/><use href="#y" x="342.1" y="503"/><use href="#y" x="472.9" y="427"/><use href="#y" x="414.6" y="396.5"/><use href="#y" x="349.5" y="452.6"/><use href="#y" x="330.4" y="502"/><use href="#y" x="396.7" y="400.4"/><use href="#y" x="365.5" y="482.7"/><use href="#y" x="311" y="459.5"/><use href="#y" x="359.1" y="430.1"/><use href="#y" x="380.7" y="419.3"/><use href="#y" x="397.5" y="434.5"/><use href="#y" x="428.1" y="440.9"/><use href="#y" x="315.4" y="489.2"/><use href="#y" x="372" y="390.4"/><use href="#y" x="426.1" y="420.1"/><use href="#y" x="330.7" y="466.4"/><use href="#y" x="310.3" y="489.6"/><use href="#y" x="377.3" y="454"/><use href="#y" x="416.7" y="438.2"/><use href="#y" x="310.3" y="487.6"/><use href="#y" x="354.6" y="433.6"/><use href="#y" x="414.7" y="413.6"/><use href="#y" x="360.8" y="443.7"/><use href="#y" x="340.6" y="456.3"/><use href="#y" x="341" y="430"/><use href="#y" x="325" y="449.1"/><use href="#y" x="359.6" y="444.9"/><use href="#y" x="393.5" y="420.5"/><use href="#y" x="421.7" y="422.8"/><use href="#y" x="327.7" y="473.9"/><use href="#y" x="310.5" y="511.2"/><use href="#y" x="392" y="443.9"/><use href="#y" x="390.9" y="421.6"/><use href="#y" x="419.9" y="421"/><use href="#y" x="422.7" y="397.1"/><use href="#y" x="371.7" y="480.4"/><use href="#y" x="364.8" y="393.5"/><use href="#y" x="304.3" y="505.5"/><use href="#y" x="331" y="455.9"/><use href="#y" x="416.9" y="405.1"/><use href="#y" x="315.8" y="510.2"/><use href="#y" x="367.2" y="481.2"/><use href="#y" x="324.1" y="474.8"/><use href="#y" x="346.6" y="443.7"/><use href="#y" x="369.7" y="468"/><use href="#y" x="347" y="411.4"/><use href="#y" x="351.8" y="447.6"/><use href="#y" x="331.3" y="473"/><use href="#y" x="413.2" y="385.9"/><use href="#y" x="310.5" y="463.7"/><use href="#y" x="456.8" y="410.8"/><use href="#y" x="475.5" y="419"/><use href="#y" x="332.3" y="499.7"/><use href="#y" x="328.5" y="515.4"/><use href="#y" x="530.7" y="401.7"/><use href="#y" x="347.4" y="451.2"/><use href="#y" x="336.3" y="456.1"/><use href="#y" x="317.5" y="481"/><use href="#y" x="329.9" y="465.3"/><use href="#y" x="316.8" y="466.6"/><use href="#y" x="314" y="484"/><use href="#y" x="374.2" y="432.4"/><use href="#y" x="338.6" y="496.7"/><use href="#y" x="425.4" y="414.4"/><use href="#y" x="321.7" y="449.9"/><use href="#y" x="368.3" y="447.2"/><use href="#y" x="377.5" y="444.1"/><use href="#y" x="422.5" y="433.2"/><use href="#y" x="372.1" y="447.6"/><use href="#y" x="380.6" y="413.9"/><use href="#y" x="326.5" y="488.7"/><use href="#y" x="396.4" y="408.2"/><use href="#y" x="414.7" y="398.7"/><use href="#y" x="353.3" y="451"/><use href="#y" x="343.1" y="468.6"/><use href="#y" x="348.8" y="502.1"/><use href="#y" x="452.8" y="382.7"/><use href="#y" x="355.5" y="435.9"/><use href="#y" x="339.3" y="441.3"/><use href="#y" x="355.4" y="442"/><use href="#y" x="363.2" y="470.8"/><use href="#y" x="310.2" y="477.1"/><use href="#y" x="374.3" y="438.9"/><use href="#y" x="445.6" y="417.9"/><use href="#y" x="421.2" y="401.2"/><use href="#y" x="304.8" y="488.3"/><use href="#y" x="325.6" y="466.5"/><use href="#y" x="388.6" y="433.6"/><use href="#y" x="317.7" y="454.3"/><use href="#y" x="399" y="418.3"/><use href="#y" x="293.3" y="502.5"/><use href="#y" x="356.9" y="413.4"/><use href="#y" x="353.9" y="464.9"/><use href="#y" x="349.2" y="445.3"/><use href="#y" x="364.8" y="447.3"/><use href="#y" x="442.6" y="405.9"/><use href="#y" x="314.5" y="493.7"/><use href="#y" x="360" y="487.3"/><use href="#y" x="347" y="447.1"/><use href="#y" x="323.9" y="453.7"/><use href="#y" x="424.8" y="404.4"/><use href="#y" x="311.3" y="507.2"/><use href="#y" x="414.8" y="416.8"/><use href="#y" x="337.8" y="462.7"/><use href="#y" x="376.3" y="468"/><use href="#y" x="354.4" y="433.4"/><use href="#y" x="422.2" y="410.3"/><use href="#y" x="349.8" y="490.5"/><use href="#y" x="374.5" y="445.2"/><use href="#y" x="307.8" y="467.4"/><use href="#y" x="461.3" y="416.8"/><use href="#y" x="298.3" y="483.7"/><use href="#y" x="424" y="437.6"/><use href="#y" x="406.1" y="400.6"/><use href="#y" x="321.4" y="477.2"/><use href="#y" x="385.9" y="429.7"/><use href="#y" x="411.2" y="408.6"/><use href="#y" x="463.2" y="402.4"/><use href="#y" x="302.2" y="471.2"/><use href="#y" x="308.9" y="442.9"/><use href="#y" x="400.3" y="427.3"/><use href="#y" x="339.8" y="451"/><use href="#y" x="356.4" y="479.3"/><use href="#y" x="366.4" y="458.2"/><use href="#y" x="334.2" y="428.8"/><use href="#y" x="409.3" y="418.1"/><use href="#y" x="352.2" y="406.8"/><use href="#y" x="279.4" y="503.7"/><use href="#y" x="416.8" y="413.6"/><use href="#y" x="379.1" y="457.5"/><use href="#y" x="368.7" y="432.6"/><use href="#y" x="404.6" y="423.6"/><use href="#y" x="367.9" y="461.8"/><use href="#y" x="381.3" y="473"/><use href="#y" x="292.5" y="486.3"/><use href="#y" x="373.3" y="390.9"/><use href="#y" x="420.8" y="415.3"/><use href="#y" x="375.7" y="447.3"/><use href="#y" x="438.8" y="395.5"/><use href="#y" x="357.8" y="417.9"/><use href="#y" x="318.7" y="511.3"/><use href="#y" x="412.3" y="426.9"/><use href="#y" x="350.4" y="471.3"/><use href="#y" x="376.6" y="413.2"/><use href="#y" x="373.3" y="440.9"/><use href="#y" x="387.2" y="427.8"/><use href="#y" x="403.6" y="446.1"/><use href="#y" x="302.8" y="464.4"/><use href="#y" x="357" y="416.3"/><use href="#y" x="430.5" y="406.7"/><use href="#y" x="366.6" y="423.2"/><use href="#y" x="412.5" y="424.8"/><use href="#y" x="388.7" y="449.5"/><use href="#y" x="394.2" y="427.1"/><use href="#y" x="427" y="400.8"/><use href="#y" x="381.9" y="446.1"/><use href="#y" x="384.7" y="429.2"/><use href="#y" x="364.8" y="438.3"/><use href="#y" x="398.6" y="423.7"/><use href="#y" x="439.8" y="378.4"/><use href="#y" x="389.8" y="457.3"/><use href="#y" x="318.6" y="459.6"/><use href="#y" x="369" y="472"/><use href="#y" x="314.5" y="442.3"/><use href="#y" x="319.3" y="474"/><use href="#y" x="328.3" y="492.4"/><use href="#y" x="327.6" y="469.5"/><use href="#y" x="368.3" y="424.1"/><use href="#y" x="476.5" y="423.2"/><use href="#y" x="389.4" y="409.4"/><use href="#y" x="357.9" y="457.1"/><use href="#y" x="409.4" y="415.3"/><use href="#y" x="387.6" y="460.6"/><use href="#y" x="391.1" y="400.5"/><use href="#y" x="269" y="513.4"/><use href="#y" x="333.8" y="471.9"/><use href="#y" x="339" y="478.1"/><use href="#y" x="424.1" y="444.3"/><use href="#y" x="421.7" y="397.1"/><use href="#y" x="369.6" y="479.9"/><use href="#y" x="349.4" y="452.2"/><use href="#y" x="335" y="451.5"/><use href="#y" x="320.4" y="497.6"/><use href="#y" x="360.9" y="451.3"/><use href="#y" x="325.4" y="467.5"/><use href="#y" x="292.1" y="500.5"/><use href="#y" x="398.5" y="400.5"/><use href="#y" x="346.2" y="460.7"/><use href="#y" x="423.7" y="401.4"/><use href="#y" x="341.1" y="492"/><use href="#y" x="313.5" y="457.7"/><use href="#y" x="356.8" y="453.1"/><use href="#y" x="316.3" y="485.1"/><use href="#y" x="450.1" y="402.5"/><use href="#y" x="402.2" y="394.7"/><use href="#y" x="318.8" y="479.9"/><use href="#y" x="375.3" y="412"/><use href="#y" x="307.1" y="473.3"/><use href="#y" x="394.7" y="447.2"/><use href="#y" x="351.6" y="438.4"/><use href="#y" x="356.1" y="404.4"/><use href="#y" x="356.5" y="459.9"/><use href="#y" x="346.2" y="437.9"/><use href="#y" x="393.1" y="435"/><use href="#y" x="398.3" y="446.6"/><use href="#y" x="395" y="447.8"/><use href="#y" x="332.7" y="474.7"/><use href="#y" x="428.1" y="430"/><use href="#y" x="319.7" y="476"/><use href="#y" x="368.3" y="407"/><use href="#y" x="406.2" y="435.9"/><use href="#y" x="459.1" y="420"/><use href="#y" x="394" y="433"/><use href="#y" x="390.1" y="446.9"/><use href="#y" x="360.7" y="413.4"/><use href="#y" x="379.2" y="393.8"/><use href="#y" x="356" y="466.2"/><use href="#y" x="319.6" y="505.1"/><use href="#y" x="367.2" y="424"/><use href="#y" x="347.6" y="472.9"/><use href="#y" x="335.5" y="468.2"/><use href="#y" x="331.9" y="500.2"/><use href="#y" x="277.3" y="504.8"/><use href="#y" x="313.9" y="489.5"/><use href="#y" x="393.6" y="410.5"/><use href="#y" x="327.5" y="447.5"/><use href="#y" x="387.1" y="450.2"/><use href="#y" x="313" y="502.1"/><use href="#y" x="382.9" y="422.1"/><use href="#y" x="335.5" y="464.6"/><use href="#y" x="450.4" y="410.9"/><use href="#y" x="298.2" y="500.2"/><use href="#y" x="345.8" y="422.5"/><use href="#y" x="323.6" y="481.6"/><use href="#y" x="430" y="384.6"/><use href="#y" x="329.1" y="495.6"/><use href="#y" x="431.8" y="445.5"/><use href="#y" x="436.9" y="443.6"/><use href="#y" x="302.3" y="455.1"/><use href="#y" x="358.2" y="462.1"/><use href="#y" x="298.1" y="488.9"/><use href="#y" x="346.4" y="465.6"/><use href="#y" x="413.3" y="404.8"/><use href="#y" x="399" y="445.6"/><use href="#y" x="349.3" y="477.6"/><use href="#y" x="311.2" y="488.7"/><use href="#y" x="335.3" y="476.6"/><use href="#y" x="451.9" y="422.7"/><use href="#y" x="349.7" y="443.4"/><use href="#y" x="379.3" y="472.8"/><use href="#y" x="339.8" y="516.5"/><use href="#y" x="350.9" y="466.9"/><use href="#y" x="297.1" y="496.9"/><use href="#y" x="323.4" y="460.8"/><use href="#y" x="333.2" y="492.5"/><use href="#y" x="406.9" y="418.5"/><use href="#y" x="477.2" y="400.5"/><use href="#y" x="359.3" y="476.1"/><use href="#y" x="335.7" y="424.8"/><use href="#y" x="343.9" y="413.1"/><use href="#y" x="301.7" y="492.9"/><use href="#y" x="318.1" y="483.1"/><use href="#y" x="367.2" y="485.1"/><use href="#y" x="418.1" y="402.9"/><use href="#y" x="414.6" y="424.9"/><use href="#y" x="333.9" y="429"/><use href="#y" x="369.9" y="457.4"/><use href="#y" x="404.6" y="385.4"/><use href="#y" x="307.6" y="477.3"/><use href="#y" x="436.2" y="378"/><use href="#y" x="357.3" y="452.6"/><use href="#y" x="341.3" y="476.7"/><use href="#y" x="424.8" y="414.3"/><use href="#y" x="366.2" y="424"/><use href="#y" x="337.8" y="497.2"/><use href="#y" x="381" y="446.4"/><use href="#y" x="331.9" y="445.1"/><use href="#y" x="322.2" y="490"/><use href="#y" x="366" y="466.9"/><use href="#y" x="358.4" y="477"/><use href="#y" x="414.1" y="381"/><use href="#y" x="333.8" y="504.4"/><use href="#y" x="326.1" y="420.4"/><use href="#y" x="396.5" y="397.5"/><use href="#y" x="340" y="471.2"/><use href="#y" x="337.9" y="418.4"/><use href="#y" x="345.4" y="432.5"/><use href="#y" x="374.9" y="390.9"/><use href="#y" x="407" y="387.9"/><use href="#y" x="301.4" y="504.8"/><use href="#y" x="309" y="486.2"/><use href="#y" x="457.2" y="393.5"/><use href="#y" x="399.4" y="448"/><use href="#y" x="428.1" y="429.9"/><use href="#y" x="385.5" y="411"/><use href="#y" x="344.5" y="431.2"/><use href="#y" x="434.6" y="439.3"/><use href="#y" x="376.1" y="437.9"/><use href="#y" x="329.5" y="464.2"/><use href="#y" x="343.2" y="463.8"/><use href="#y" x="427.1" y="456.3"/><use href="#y" x="363.6" y="455.4"/><use href="#y" x="372.1" y="449.2"/><use href="#y" x="413.1" y="415.9"/><use href="#y" x="379.4" y="400.9"/><use href="#y" x="379" y="445.1"/><use href="#y" x="334.4" y="489.7"/><use href="#y" x="385.1" y="406.2"/><use href="#y" x="375.2" y="457.8"/><use href="#y" x="356.6" y="426.8"/><use href="#y" x="397.8" y="428.1"/><use href="#y" x="335.6" y="461.4"/><use href="#y" x="326.4" y="463.9"/><use href="#y" x="362.3" y="451.2"/><use href="#y" x="324.5" y="429.6"/><use href="#y" x="404.7" y="433.7"/><use href="#y" x="406.6" y="426.6"/><use href="#y" x="335.8" y="419.3"/><use href="#y" x="308.1" y="472.7"/><use href="#y" x="427.9" y="425.4"/><use href="#y" x="345.3" y="440.5"/><use href="#y" x="423.2" y="420.8"/><use href="#y" x="384.2" y="462.2"/><use href="#y" x="500.9" y="405.3"/><use href="#y" x="335.4" y="462.4"/><use href="#y" x="300.1" y="481.8"/><use href="#y" x="357.3" y="426.8"/><use href="#y" x="349.1" y="441.6"/><use href="#y" x="416.8" y="421.3"/><use href="#y" x="432.6" y="438.7"/><use href="#y" x="344.8" y="467.2"/><use href="#y" x="358.3" y="452.4"/><use href="#y" x="411.3" y="425.2"/><use href="#y" x="331" y="479.6"/><use href="#y" x="401.9" y="436.3"/><use href="#y" x="397.5" y="456.3"/><use href="#y" x="375.3" y="469.3"/><use href="#y" x="260.1" y="542.3"/><use href="#y" x="251.8" y="547.2"/><use href="#y" x="273.1" y="538.4"/><use href="#y" x="275.4" y="539.2"/><use href="#y" x="321.1" y="529.2"/><use href="#y" x="299.3" y="550"/><use href="#y" x="264.7" y="533.8"/><use href="#y" x="264.3" y="547"/><use href="#y" x="250.2" y="544.1"/><use href="#y" x="286.8" y="531"/><use href="#y" x="290.8" y="548.2"/><use href="#y" x="275" y="552.9"/><use href="#y" x="289.7" y="523.4"/><use href="#y" x="310.2" y="547.8"/><use href="#y" x="314.5" y="527"/><use href="#y" x="286.3" y="544.4"/><use href="#y" x="300.6" y="520.5"/><use href="#y" x="276.2" y="552.3"/><use href="#y" x="327.4" y="515.4"/><use href="#y" x="302.4" y="545.2"/><use href="#y" x="308" y="532.4"/><use href="#y" x="283.9" y="545.3"/><use href="#y" x="279.4" y="540.2"/><use href="#y" x="277.9" y="527.9"/><use href="#y" x="292.7" y="556.7"/><use href="#y" x="289.5" y="539.3"/><use href="#y" x="306.4" y="524.4"/><use href="#y" x="288.8" y="558"/><use href="#y" x="274.7" y="526.1"/><use href="#y" x="310.6" y="534.9"/><use href="#y" x="311.7" y="545.6"/><use href="#y" x="291.9" y="527.4"/><use href="#y" x="292.4" y="539.8"/><use href="#y" x="282.6" y="536.5"/><use href="#y" x="297.6" y="542.5"/><use href="#y" x="329.1" y="515"/><use href="#y" x="299.1" y="540.6"/><use href="#y" x="260.1" y="560.9"/><use href="#y" x="326.5" y="541.5"/><use href="#y" x="250.7" y="539.6"/><use href="#y" x="288.4" y="540.4"/><use href="#y" x="323.3" y="541"/><use href="#y" x="251.3" y="545.2"/><use href="#y" x="298.1" y="545"/><use href="#y" x="303.2" y="559.2"/><use href="#y" x="288" y="529.4"/><use href="#y" x="291" y="532.4"/><use href="#y" x="273.9" y="542.7"/><use href="#y" x="285.6" y="529.3"/><use href="#y" x="325.1" y="533"/><use href="#y" x="290.9" y="534.5"/><use href="#y" x="273.3" y="553.4"/><use href="#y" x="275" y="526.9"/><use href="#y" x="295.3" y="519.3"/><use href="#y" x="321.6" y="532.2"/><use href="#y" x="273.4" y="547"/><use href="#y" x="278.6" y="545.3"/><use href="#y" x="276.9" y="560.9"/><use href="#y" x="311.9" y="521"/><use href="#y" x="299" y="528.4"/><use href="#y" x="252.5" y="543.6"/><use href="#y" x="296.6" y="521.5"/><use href="#y" x="265" y="530.1"/><use href="#y" x="285.3" y="543.2"/><use href="#y" x="269.9" y="535.5"/><use href="#y" x="319.3" y="516.3"/><use href="#y" x="293.1" y="517.9"/><use href="#y" x="292.2" y="528.6"/><use href="#y" x="323.6" y="527.7"/><use href="#y" x="279.3" y="534.1"/><use href="#y" x="323.5" y="539.8"/><use href="#y" x="286.7" y="517.2"/><use href="#y" x="291.2" y="552.1"/><use href="#y" x="295.9" y="515.5"/><use href="#y" x="300.8" y="530.6"/><use href="#y" x="292.6" y="533.6"/><use href="#y" x="271" y="529.2"/><use href="#y" x="314.3" y="536.8"/><use href="#y" x="268.2" y="517.9"/><use href="#y" x="317.4" y="537.3"/><use href="#y" x="295.4" y="528.6"/><use href="#y" x="283" y="546.1"/><use href="#y" x="302.3" y="541.1"/><use href="#y" x="259.2" y="554.7"/><use href="#y" x="320.3" y="522.1"/><use href="#y" x="316.2" y="525.7"/><use href="#y" x="291.8" y="535.9"/><use href="#y" x="287.5" y="538.6"/><use href="#y" x="321.4" y="547.1"/><use href="#y" x="307.2" y="539.8"/><use href="#y" x="263.1" y="540.5"/><use href="#y" x="303.4" y="534.4"/><use href="#y" x="281.1" y="526.2"/><use href="#y" x="314.9" y="538.9"/><use href="#y" x="306.4" y="535"/><use href="#y" x="492.8" y="403.2"/><use href="#y" x="466.1" y="405"/><use href="#y" x="472.1" y="412.7"/><use href="#y" x="443.3" y="406.3"/><use href="#y" x="505.9" y="403.2"/><use href="#y" x="480" y="431.3"/><use href="#y" x="464.7" y="419"/><use href="#y" x="442.8" y="403.2"/><use href="#y" x="493" y="419.6"/><use href="#y" x="496.5" y="411.8"/><use href="#y" x="483.8" y="411.4"/><use href="#y" x="450.7" y="406"/><use href="#y" x="446.3" y="424.1"/><use href="#y" x="445.3" y="408.3"/><use href="#y" x="507.5" y="410.3"/><use href="#y" x="502.4" y="406.9"/><use href="#y" x="494.9" y="402.4"/><use href="#y" x="463.5" y="404.8"/><use href="#y" x="513.6" y="402.5"/><use href="#y" x="533.4" y="401.1"/><use href="#y" x="481.6" y="417.7"/><use href="#y" x="533.9" y="415.2"/>
</g>
<g stroke="#262626" stroke-width="1.75" fill="none" stroke-linecap="square">
<rect x="72" y="10" width="946.2" height="650"/>
<path stroke-linecap="butt" d="M229.7 660 v-10.3 M229.7 10 v10.3 M72 551.7 h10.3 M1018.2 551.7 h-10.3 M387.4 660 v-10.3 M387.4 10 v10.3 M72 443.3 h10.3 M1018.2 443.3 h-10.3 M545.1 660 v-10.3 M545.1 10 v10.3 M72 335 h10.3 M1018.2 335 h-10.3 M702.8 660 v-10.3 M702.8 10 v10.3 M72 226.7 h10.3 M1018.2 226.7 h-10.3 M860.5 660 v-10.3 M860.5 10 v10.3 M72 118.3 h10.3 M1018.2 118.3 h-10.3"/>
</g>
<g font-size="33.2" fill="#262626">
<text x="72" y="699.9" text-anchor="middle" fill="#262626">0</text>
<text x="229.7" y="699.9" text-anchor="middle" fill="#262626">1</text>
<text x="387.4" y="699.9" text-anchor="middle" fill="#262626">2</text>
<text x="545.1" y="699.9" text-anchor="middle" fill="#262626">3</text>
<text x="702.8" y="699.9" text-anchor="middle" fill="#262626">4</text>
<text x="860.5" y="699.9" text-anchor="middle" fill="#262626">5</text>
<text x="1018.2" y="699.9" text-anchor="middle" fill="#262626">6</text>
<text x="62.6" y="672.4" text-anchor="end" fill="#262626">0</text>
<text x="62.6" y="564.1" text-anchor="end" fill="#262626">1</text>
<text x="62.6" y="455.7" text-anchor="end" fill="#262626">2</text>
<text x="62.6" y="347.4" text-anchor="end" fill="#262626">3</text>
<text x="62.6" y="239.1" text-anchor="end" fill="#262626">4</text>
<text x="62.6" y="130.7" text-anchor="end" fill="#262626">5</text>
<text x="62.6" y="22.4" text-anchor="end" fill="#262626">6</text>
</g>
<g font-size="36" fill="#262626">
<text x="486.5" y="737.6" font-style="italic" fill="#262626">d</text>
<text x="518.5" y="737.6" fill="#262626" textLength="84" lengthAdjust="spacingAndGlyphs">(mm)</text>
</g>
<g transform="translate(30 440) rotate(-90)" font-size="36" fill="#262626">
<text x="0.5" y="0" font-style="italic" fill="#262626">v</text>
<text x="32.5" y="0" font-size="39" fill="#262626">(</text>
<text x="46.4" y="4.4" font-size="43" fill="#262626">×</text>
<text x="73" y="0" fill="#262626" textLength="33" lengthAdjust="spacingAndGlyphs">10</text>
<text x="106.5" y="-14.3" font-size="26" fill="#262626">5</text>
<text x="134" y="0" fill="#262626" textLength="30" lengthAdjust="spacingAndGlyphs">m</text>
<text x="166.5" y="8.5" font-size="50" fill="#262626">/</text>
<text x="181" y="0" fill="#262626">s</text>
<text x="193.5" y="0" font-size="39" fill="#262626">)</text>
</g>
<rect x="82" y="20.7" width="128.8" height="134.2" fill="#fff" stroke="#262626" stroke-width="1.75"/>
<use href="#a" x="106.6" y="38.9"/>
<use href="#g" x="106.6" y="71.8"/>
<use href="#p" x="106.6" y="103.0"/>
<use href="#y" x="106.6" y="139.0"/>
<g font-size="28">
<text x="130.4" y="45.7">Air</text>
<text x="130.4" y="78.5">5% O<tspan font-size="19.5" dy="4.2">2</tspan></text>
<text x="130.4" y="111.2">2% O<tspan font-size="19.5" dy="4.2">2</tspan></text>
<text x="130.4" y="144">1% O<tspan font-size="19.5" dy="4.2">2</tspan></text>
</g>
</svg></body></html>
